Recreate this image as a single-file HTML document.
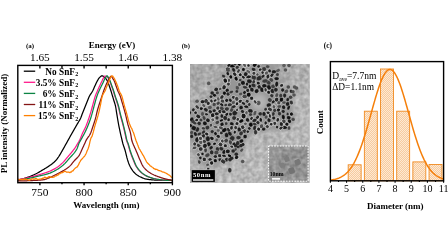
<!DOCTYPE html>
<html><head><meta charset="utf-8"><style>html,body{margin:0;padding:0;background:#fff}svg{display:block;filter:blur(0.3px)}</style></head>
<body><svg width="448" height="252" viewBox="0 0 448 252">
<rect width="448" height="252" fill="#fff"/>
<clipPath id="ca"><rect x="17.8" y="65.4" width="154.6" height="117.29999999999998"/></clipPath>
<g clip-path="url(#ca)" fill="none" stroke-width="1.25" stroke-linejoin="round">
<path d="M18.00,180.00 L18.50,179.90 L19.00,179.79 L19.50,179.68 L20.00,179.56 L20.50,179.44 L21.00,179.31 L21.50,179.18 L22.00,179.05 L22.50,178.91 L23.00,178.77 L23.50,178.63 L24.00,178.48 L24.50,178.33 L25.00,178.17 L25.50,178.02 L26.00,177.86 L26.50,177.70 L27.00,177.53 L27.50,177.37 L28.00,177.20 L28.50,177.03 L29.00,176.85 L29.50,176.67 L30.00,176.48 L30.50,176.28 L31.00,176.08 L31.50,175.87 L32.00,175.66 L32.50,175.45 L33.00,175.23 L33.50,175.00 L34.00,174.77 L34.50,174.54 L35.00,174.30 L35.50,174.06 L36.00,173.81 L36.50,173.54 L37.00,173.28 L37.50,173.00 L38.00,172.72 L38.50,172.44 L39.00,172.15 L39.50,171.85 L40.00,171.56 L40.50,171.26 L41.00,170.96 L41.50,170.66 L42.00,170.36 L42.50,170.06 L43.00,169.76 L43.50,169.46 L44.00,169.17 L44.50,168.87 L45.00,168.57 L45.50,168.27 L46.00,167.97 L46.50,167.66 L47.00,167.35 L47.50,167.04 L48.00,166.72 L48.50,166.39 L49.00,166.05 L49.50,165.71 L50.00,165.36 L50.50,165.00 L51.00,164.64 L51.50,164.27 L52.00,163.89 L52.50,163.50 L53.00,163.09 L53.50,162.67 L54.00,162.24 L54.50,161.78 L55.00,161.30 L55.50,160.79 L56.00,160.24 L56.50,159.66 L57.00,159.04 L57.50,158.40 L58.00,157.73 L58.50,157.00 L59.00,156.23 L59.50,155.43 L60.00,154.60 L60.50,153.77 L61.00,152.93 L61.50,152.06 L62.00,151.17 L62.50,150.28 L63.00,149.37 L63.50,148.48 L64.00,147.59 L64.50,146.69 L65.00,145.80 L65.50,144.90 L66.00,144.00 L66.50,143.09 L67.00,142.18 L67.50,141.27 L68.00,140.36 L68.50,139.46 L69.00,138.57 L69.50,137.69 L70.00,136.81 L70.50,135.93 L71.00,135.05 L71.50,134.18 L72.00,133.30 L72.50,132.42 L73.00,131.54 L73.50,130.66 L74.00,129.79 L74.50,128.91 L75.00,128.04 L75.50,127.16 L76.00,126.28 L76.50,125.41 L77.00,124.53 L77.50,123.65 L78.00,122.81 L78.50,122.00 L79.00,121.18 L79.50,120.33 L80.00,119.42 L80.50,118.43 L81.00,117.29 L81.50,115.94 L82.00,114.53 L82.50,113.23 L83.00,111.96 L83.50,110.71 L84.00,109.47 L84.50,108.23 L85.00,107.00 L85.50,105.75 L86.00,104.49 L86.50,103.23 L87.00,101.98 L87.50,100.75 L88.00,99.50 L88.50,98.25 L89.00,97.06 L89.50,96.00 L90.00,95.09 L90.50,94.29 L91.00,93.54 L91.50,92.81 L92.00,92.04 L92.50,91.18 L93.00,90.21 L93.50,89.14 L94.00,88.01 L94.50,86.87 L95.00,85.79 L95.50,84.70 L96.00,83.60 L96.50,82.54 L97.00,81.55 L97.50,80.65 L98.00,79.77 L98.50,78.94 L99.00,78.20 L99.50,77.60 L100.00,77.10 L100.50,76.62 L101.00,76.20 L101.50,75.91 L102.00,75.80 L102.50,75.88 L103.00,76.10 L103.50,76.43 L104.00,76.82 L104.50,77.24 L105.00,77.68 L105.50,78.19 L106.00,78.80 L106.50,79.51 L107.00,80.30 L107.50,81.19 L108.00,82.33 L108.50,83.69 L109.00,85.15 L109.50,86.56 L110.00,87.99 L110.50,89.47 L111.00,91.00 L111.50,92.62 L112.00,94.31 L112.50,96.00 L113.00,97.67 L113.50,99.33 L114.00,101.00 L114.50,102.55 L115.00,104.11 L115.50,106.00 L116.00,108.75 L116.50,112.08 L117.00,115.21 L117.50,118.25 L118.00,121.22 L118.50,124.00 L119.00,126.56 L119.50,128.97 L120.00,131.29 L120.50,133.55 L121.00,135.77 L121.50,137.91 L122.00,140.00 L122.50,142.08 L123.00,144.00 L123.50,145.60 L124.00,147.03 L124.50,148.45 L125.00,150.00 L125.50,151.82 L126.00,153.84 L126.50,155.92 L127.00,157.91 L127.50,159.68 L128.00,161.21 L128.50,162.66 L129.00,164.01 L129.50,165.24 L130.00,166.32 L130.50,167.25 L131.00,168.11 L131.50,168.93 L132.00,169.70 L132.50,170.42 L133.00,171.10 L133.50,171.72 L134.00,172.29 L134.50,172.82 L135.00,173.30 L135.50,173.74 L136.00,174.16 L136.50,174.55 L137.00,174.92 L137.50,175.26 L138.00,175.59 L138.50,175.89 L139.00,176.18 L139.50,176.45 L140.00,176.70 L140.50,176.94 L141.00,177.19 L141.50,177.42 L142.00,177.65 L142.50,177.88 L143.00,178.09 L143.50,178.29 L144.00,178.48 L144.50,178.66 L145.00,178.81 L145.50,178.95 L146.00,179.07 L146.50,179.17 L147.00,179.24 L147.50,179.32 L148.00,179.39 L148.50,179.45 L149.00,179.51 L149.50,179.58 L150.00,179.63 L150.50,179.69 L151.00,179.74 L151.50,179.79 L152.00,179.83 L152.50,179.88 L153.00,179.92 L153.50,179.96 L154.00,179.99 L154.50,180.03 L155.00,180.06 L155.50,180.09 L156.00,180.11 L156.50,180.14 L157.00,180.16 L157.50,180.18 L158.00,180.20 L158.50,180.22 L159.00,180.23 L159.50,180.25 L160.00,180.27 L160.50,180.28 L161.00,180.30 L161.50,180.31 L162.00,180.33 L162.50,180.34 L163.00,180.36 L163.50,180.37 L164.00,180.38 L164.50,180.39 L165.00,180.41 L165.50,180.42 L166.00,180.43 L166.50,180.44 L167.00,180.45 L167.50,180.46 L168.00,180.46 L168.50,180.47 L169.00,180.48 L169.50,180.48 L170.00,180.49 L170.50,180.49 L171.00,180.50 L171.50,180.50 L172.00,180.50 L172.50,180.50" stroke="#000000"/>
<path d="M18.00,179.60 L18.50,179.52 L19.00,179.44 L19.50,179.36 L20.00,179.28 L20.50,179.19 L21.00,179.11 L21.50,179.02 L22.00,178.93 L22.50,178.83 L23.00,178.74 L23.50,178.64 L24.00,178.54 L24.50,178.44 L25.00,178.34 L25.50,178.24 L26.00,178.13 L26.50,178.03 L27.00,177.92 L27.50,177.81 L28.00,177.70 L28.50,177.59 L29.00,177.47 L29.50,177.35 L30.00,177.23 L30.50,177.11 L31.00,176.98 L31.50,176.85 L32.00,176.72 L32.50,176.58 L33.00,176.45 L33.50,176.31 L34.00,176.17 L34.50,176.03 L35.00,175.89 L35.50,175.75 L36.00,175.61 L36.50,175.46 L37.00,175.32 L37.50,175.17 L38.00,175.03 L38.50,174.88 L39.00,174.74 L39.50,174.60 L40.00,174.45 L40.50,174.31 L41.00,174.16 L41.50,174.02 L42.00,173.87 L42.50,173.72 L43.00,173.57 L43.50,173.42 L44.00,173.26 L44.50,173.10 L45.00,172.94 L45.50,172.77 L46.00,172.60 L46.50,172.43 L47.00,172.25 L47.50,172.07 L48.00,171.88 L48.50,171.68 L49.00,171.48 L49.50,171.28 L50.00,171.06 L50.50,170.85 L51.00,170.62 L51.50,170.39 L52.00,170.16 L52.50,169.91 L53.00,169.66 L53.50,169.41 L54.00,169.14 L54.50,168.87 L55.00,168.59 L55.50,168.30 L56.00,168.00 L56.50,167.70 L57.00,167.38 L57.50,167.05 L58.00,166.70 L58.50,166.33 L59.00,165.95 L59.50,165.55 L60.00,165.14 L60.50,164.72 L61.00,164.28 L61.50,163.83 L62.00,163.37 L62.50,162.90 L63.00,162.41 L63.50,161.88 L64.00,161.32 L64.50,160.74 L65.00,160.15 L65.50,159.55 L66.00,158.95 L66.50,158.35 L67.00,157.77 L67.50,157.18 L68.00,156.60 L68.50,156.02 L69.00,155.44 L69.50,154.86 L70.00,154.28 L70.50,153.69 L71.00,153.09 L71.50,152.49 L72.00,151.87 L72.50,151.25 L73.00,150.61 L73.50,149.95 L74.00,149.28 L74.50,148.58 L75.00,147.86 L75.50,147.10 L76.00,146.31 L76.50,145.49 L77.00,144.65 L77.50,143.80 L78.00,142.97 L78.50,142.14 L79.00,141.30 L79.50,140.39 L80.00,139.37 L80.50,138.20 L81.00,136.95 L81.50,135.68 L82.00,134.46 L82.50,133.34 L83.00,132.28 L83.50,131.27 L84.00,130.27 L84.50,129.27 L85.00,128.24 L85.50,127.15 L86.00,126.00 L86.50,124.77 L87.00,123.48 L87.50,122.14 L88.00,120.75 L88.50,119.31 L89.00,117.83 L89.50,116.31 L90.00,114.73 L90.50,113.06 L91.00,111.33 L91.50,109.56 L92.00,107.77 L92.50,106.00 L93.00,104.18 L93.50,102.28 L94.00,100.39 L94.50,98.56 L95.00,96.90 L95.50,95.45 L96.00,94.19 L96.50,93.03 L97.00,91.91 L97.50,90.77 L98.00,89.61 L98.50,88.46 L99.00,87.33 L99.50,86.22 L100.00,85.14 L100.50,84.10 L101.00,83.07 L101.50,82.04 L102.00,81.00 L102.50,79.87 L103.00,78.75 L103.50,77.84 L104.00,76.99 L104.50,76.29 L105.00,76.00 L105.50,76.06 L106.00,76.25 L106.50,76.53 L107.00,76.89 L107.50,77.32 L108.00,77.80 L108.50,78.40 L109.00,79.37 L109.50,80.53 L110.00,81.74 L110.50,83.11 L111.00,84.56 L111.50,86.00 L112.00,87.36 L112.50,88.71 L113.00,90.11 L113.50,91.63 L114.00,93.31 L114.50,95.03 L115.00,96.62 L115.50,98.09 L116.00,99.53 L116.50,101.00 L117.00,102.49 L117.50,104.01 L118.00,105.65 L118.50,107.54 L119.00,109.69 L119.50,111.90 L120.00,114.00 L120.50,115.92 L121.00,117.75 L121.50,119.55 L122.00,121.36 L122.50,123.22 L123.00,125.19 L123.50,127.21 L124.00,129.28 L124.50,131.39 L125.00,133.56 L125.50,135.91 L126.00,138.37 L126.50,140.33 L127.00,141.71 L127.50,142.91 L128.00,144.31 L128.50,146.05 L129.00,147.92 L129.50,149.68 L130.00,151.22 L130.50,152.69 L131.00,154.09 L131.50,155.45 L132.00,156.75 L132.50,158.02 L133.00,159.27 L133.50,160.49 L134.00,161.73 L134.50,162.96 L135.00,164.14 L135.50,165.23 L136.00,166.20 L136.50,167.01 L137.00,167.75 L137.50,168.46 L138.00,169.12 L138.50,169.75 L139.00,170.34 L139.50,170.90 L140.00,171.43 L140.50,171.92 L141.00,172.38 L141.50,172.82 L142.00,173.22 L142.50,173.60 L143.00,173.97 L143.50,174.32 L144.00,174.65 L144.50,174.97 L145.00,175.27 L145.50,175.55 L146.00,175.82 L146.50,176.08 L147.00,176.31 L147.50,176.53 L148.00,176.74 L148.50,176.94 L149.00,177.13 L149.50,177.32 L150.00,177.50 L150.50,177.67 L151.00,177.84 L151.50,178.01 L152.00,178.16 L152.50,178.31 L153.00,178.45 L153.50,178.59 L154.00,178.72 L154.50,178.84 L155.00,178.95 L155.50,179.05 L156.00,179.15 L156.50,179.23 L157.00,179.32 L157.50,179.40 L158.00,179.48 L158.50,179.55 L159.00,179.62 L159.50,179.69 L160.00,179.76 L160.50,179.82 L161.00,179.88 L161.50,179.94 L162.00,179.99 L162.50,180.04 L163.00,180.08 L163.50,180.12 L164.00,180.16 L164.50,180.19 L165.00,180.22 L165.50,180.25 L166.00,180.28 L166.50,180.31 L167.00,180.34 L167.50,180.36 L168.00,180.39 L168.50,180.41 L169.00,180.43 L169.50,180.45 L170.00,180.47 L170.50,180.48 L171.00,180.49 L171.50,180.50 L172.00,180.50" stroke="#ff1a8c"/>
<path d="M18.00,180.00 L18.50,179.94 L19.00,179.88 L19.50,179.82 L20.00,179.76 L20.50,179.69 L21.00,179.63 L21.50,179.56 L22.00,179.49 L22.50,179.41 L23.00,179.34 L23.50,179.26 L24.00,179.18 L24.50,179.10 L25.00,179.02 L25.50,178.94 L26.00,178.85 L26.50,178.77 L27.00,178.68 L27.50,178.59 L28.00,178.50 L28.50,178.41 L29.00,178.31 L29.50,178.21 L30.00,178.11 L30.50,178.00 L31.00,177.89 L31.50,177.78 L32.00,177.67 L32.50,177.55 L33.00,177.43 L33.50,177.31 L34.00,177.19 L34.50,177.07 L35.00,176.95 L35.50,176.83 L36.00,176.71 L36.50,176.59 L37.00,176.46 L37.50,176.34 L38.00,176.22 L38.50,176.11 L39.00,175.99 L39.50,175.88 L40.00,175.77 L40.50,175.66 L41.00,175.55 L41.50,175.44 L42.00,175.33 L42.50,175.21 L43.00,175.10 L43.50,174.99 L44.00,174.87 L44.50,174.75 L45.00,174.62 L45.50,174.49 L46.00,174.36 L46.50,174.22 L47.00,174.07 L47.50,173.92 L48.00,173.77 L48.50,173.60 L49.00,173.42 L49.50,173.24 L50.00,173.05 L50.50,172.84 L51.00,172.63 L51.50,172.41 L52.00,172.18 L52.50,171.95 L53.00,171.70 L53.50,171.45 L54.00,171.20 L54.50,170.93 L55.00,170.66 L55.50,170.39 L56.00,170.10 L56.50,169.82 L57.00,169.52 L57.50,169.22 L58.00,168.92 L58.50,168.61 L59.00,168.29 L59.50,167.95 L60.00,167.60 L60.50,167.23 L61.00,166.85 L61.50,166.45 L62.00,166.05 L62.50,165.63 L63.00,165.20 L63.50,164.75 L64.00,164.30 L64.50,163.83 L65.00,163.33 L65.50,162.80 L66.00,162.26 L66.50,161.69 L67.00,161.12 L67.50,160.53 L68.00,159.94 L68.50,159.35 L69.00,158.75 L69.50,158.17 L70.00,157.60 L70.50,157.05 L71.00,156.52 L71.50,155.99 L72.00,155.46 L72.50,154.93 L73.00,154.38 L73.50,153.81 L74.00,153.21 L74.50,152.58 L75.00,151.91 L75.50,151.20 L76.00,150.43 L76.50,149.60 L77.00,148.70 L77.50,147.52 L78.00,146.03 L78.50,144.52 L79.00,143.28 L79.50,142.29 L80.00,141.40 L80.50,140.54 L81.00,139.64 L81.50,138.74 L82.00,137.85 L82.50,136.97 L83.00,136.07 L83.50,135.15 L84.00,134.20 L84.50,133.21 L85.00,132.20 L85.50,131.16 L86.00,130.11 L86.50,129.02 L87.00,127.89 L87.50,126.72 L88.00,125.51 L88.50,124.26 L89.00,122.96 L89.50,121.62 L90.00,120.22 L90.50,118.77 L91.00,117.26 L91.50,115.68 L92.00,113.95 L92.50,112.09 L93.00,110.16 L93.50,108.23 L94.00,106.36 L94.50,104.56 L95.00,102.73 L95.50,100.92 L96.00,99.17 L96.50,97.52 L97.00,96.00 L97.50,94.63 L98.00,93.35 L98.50,92.15 L99.00,91.00 L99.50,89.90 L100.00,88.85 L100.50,87.83 L101.00,86.82 L101.50,85.79 L102.00,84.74 L102.50,83.70 L103.00,82.65 L103.50,81.61 L104.00,80.58 L104.50,79.52 L105.00,78.52 L105.50,77.67 L106.00,76.81 L106.50,76.10 L107.00,75.80 L107.50,76.13 L108.00,76.92 L108.50,77.83 L109.00,78.70 L109.50,79.68 L110.00,80.77 L110.50,82.00 L111.00,83.40 L111.50,84.86 L112.00,86.28 L112.50,87.63 L113.00,88.99 L113.50,90.40 L114.00,91.95 L114.50,93.66 L115.00,95.36 L115.50,96.92 L116.00,98.38 L116.50,99.82 L117.00,101.30 L117.50,102.79 L118.00,104.32 L118.50,106.00 L119.00,107.96 L119.50,110.13 L120.00,112.34 L120.50,114.39 L121.00,116.29 L121.50,118.11 L122.00,119.91 L122.50,121.72 L123.00,123.61 L123.50,125.59 L124.00,127.62 L124.50,129.69 L125.00,131.82 L125.50,134.00 L126.00,136.41 L126.50,138.82 L127.00,140.64 L127.50,141.95 L128.00,143.17 L128.50,144.64 L129.00,146.42 L129.50,148.29 L130.00,150.00 L130.50,151.52 L131.00,152.97 L131.50,154.37 L132.00,155.71 L132.50,157.01 L133.00,158.27 L133.50,159.51 L134.00,160.74 L134.50,161.98 L135.00,163.20 L135.50,164.37 L136.00,165.44 L136.50,166.37 L137.00,167.16 L137.50,167.90 L138.00,168.59 L138.50,169.25 L139.00,169.87 L139.50,170.46 L140.00,171.01 L140.50,171.53 L141.00,172.02 L141.50,172.47 L142.00,172.90 L142.50,173.30 L143.00,173.68 L143.50,174.04 L144.00,174.39 L144.50,174.72 L145.00,175.03 L145.50,175.33 L146.00,175.61 L146.50,175.87 L147.00,176.12 L147.50,176.36 L148.00,176.58 L148.50,176.78 L149.00,176.98 L149.50,177.17 L150.00,177.35 L150.50,177.53 L151.00,177.71 L151.50,177.88 L152.00,178.04 L152.50,178.19 L153.00,178.34 L153.50,178.48 L154.00,178.62 L154.50,178.74 L155.00,178.86 L155.50,178.97 L156.00,179.07 L156.50,179.17 L157.00,179.25 L157.50,179.33 L158.00,179.41 L158.50,179.49 L159.00,179.57 L159.50,179.64 L160.00,179.71 L160.50,179.77 L161.00,179.83 L161.50,179.89 L162.00,179.95 L162.50,180.00 L163.00,180.05 L163.50,180.09 L164.00,180.13 L164.50,180.17 L165.00,180.20 L165.50,180.23 L166.00,180.26 L166.50,180.29 L167.00,180.32 L167.50,180.34 L168.00,180.37 L168.50,180.39 L169.00,180.42 L169.50,180.44 L170.00,180.45 L170.50,180.47 L171.00,180.48 L171.50,180.49 L172.00,180.50 L172.50,180.50" stroke="#0c8444"/>
<path d="M18.00,181.00 L18.50,180.99 L19.00,180.99 L19.50,180.98 L20.00,180.97 L20.50,180.96 L21.00,180.95 L21.50,180.94 L22.00,180.92 L22.50,180.91 L23.00,180.90 L23.50,180.88 L24.00,180.87 L24.50,180.85 L25.00,180.83 L25.50,180.81 L26.00,180.80 L26.50,180.78 L27.00,180.76 L27.50,180.74 L28.00,180.72 L28.50,180.70 L29.00,180.67 L29.50,180.65 L30.00,180.63 L30.50,180.61 L31.00,180.58 L31.50,180.56 L32.00,180.54 L32.50,180.51 L33.00,180.49 L33.50,180.46 L34.00,180.44 L34.50,180.41 L35.00,180.39 L35.50,180.37 L36.00,180.34 L36.50,180.32 L37.00,180.29 L37.50,180.26 L38.00,180.23 L38.50,180.20 L39.00,180.17 L39.50,180.14 L40.00,180.10 L40.50,180.06 L41.00,180.02 L41.50,179.97 L42.00,179.92 L42.50,179.87 L43.00,179.81 L43.50,179.74 L44.00,179.65 L44.50,179.53 L45.00,179.39 L45.50,179.23 L46.00,179.06 L46.50,178.87 L47.00,178.67 L47.50,178.47 L48.00,178.26 L48.50,178.05 L49.00,177.83 L49.50,177.62 L50.00,177.42 L50.50,177.20 L51.00,176.97 L51.50,176.73 L52.00,176.48 L52.50,176.23 L53.00,175.97 L53.50,175.71 L54.00,175.46 L54.50,175.20 L55.00,174.95 L55.50,174.70 L56.00,174.46 L56.50,174.21 L57.00,173.97 L57.50,173.72 L58.00,173.47 L58.50,173.22 L59.00,172.97 L59.50,172.71 L60.00,172.45 L60.50,172.18 L61.00,171.92 L61.50,171.65 L62.00,171.39 L62.50,171.11 L63.00,170.83 L63.50,170.55 L64.00,170.26 L64.50,169.95 L65.00,169.64 L65.50,169.31 L66.00,168.99 L66.50,168.65 L67.00,168.31 L67.50,167.95 L68.00,167.58 L68.50,167.19 L69.00,166.79 L69.50,166.36 L70.00,165.91 L70.50,165.40 L71.00,164.85 L71.50,164.25 L72.00,163.62 L72.50,162.98 L73.00,162.35 L73.50,161.72 L74.00,161.12 L74.50,160.55 L75.00,160.02 L75.50,159.52 L76.00,159.02 L76.50,158.52 L77.00,158.01 L77.50,157.48 L78.00,156.91 L78.50,156.28 L79.00,155.59 L79.50,154.81 L80.00,153.86 L80.50,152.79 L81.00,151.65 L81.50,150.51 L82.00,149.40 L82.50,148.33 L83.00,147.27 L83.50,146.19 L84.00,145.11 L84.50,144.02 L85.00,142.89 L85.50,141.71 L86.00,140.60 L86.50,139.64 L87.00,138.82 L87.50,138.08 L88.00,137.40 L88.50,136.73 L89.00,136.03 L89.50,135.26 L90.00,134.39 L90.50,133.36 L91.00,132.14 L91.50,130.78 L92.00,129.32 L92.50,127.81 L93.00,126.30 L93.50,124.81 L94.00,123.30 L94.50,121.74 L95.00,120.10 L95.50,118.36 L96.00,116.42 L96.50,114.22 L97.00,112.01 L97.50,110.00 L98.00,108.24 L98.50,106.60 L99.00,105.03 L99.50,103.52 L100.00,102.02 L100.50,100.51 L101.00,98.96 L101.50,97.41 L102.00,95.86 L102.50,94.34 L103.00,92.86 L103.50,91.43 L104.00,90.06 L104.50,88.72 L105.00,87.40 L105.50,86.13 L106.00,84.91 L106.50,83.76 L107.00,82.70 L107.50,81.72 L108.00,80.81 L108.50,79.95 L109.00,79.13 L109.50,78.34 L110.00,77.40 L110.50,76.56 L111.00,76.20 L111.50,76.49 L112.00,77.18 L112.50,78.03 L113.00,78.79 L113.50,79.55 L114.00,80.41 L114.50,81.44 L115.00,82.76 L115.50,84.24 L116.00,85.72 L116.50,87.13 L117.00,88.57 L117.50,89.97 L118.00,91.24 L118.50,92.34 L119.00,93.34 L119.50,94.35 L120.00,95.49 L120.50,96.87 L121.00,98.55 L121.50,100.32 L122.00,101.99 L122.50,103.64 L123.00,105.31 L123.50,107.04 L124.00,108.81 L124.50,110.61 L125.00,112.47 L125.50,114.39 L126.00,116.45 L126.50,118.59 L127.00,120.75 L127.50,122.83 L128.00,124.73 L128.50,126.40 L129.00,127.95 L129.50,129.49 L130.00,131.17 L130.50,133.12 L131.00,135.72 L131.50,139.02 L132.00,141.08 L132.50,142.51 L133.00,143.75 L133.50,144.98 L134.00,146.11 L134.50,147.19 L135.00,148.25 L135.50,149.33 L136.00,150.46 L136.50,151.64 L137.00,152.85 L137.50,154.08 L138.00,155.30 L138.50,156.52 L139.00,157.72 L139.50,158.88 L140.00,160.00 L140.50,161.12 L141.00,162.26 L141.50,163.39 L142.00,164.46 L142.50,165.44 L143.00,166.28 L143.50,166.96 L144.00,167.57 L144.50,168.15 L145.00,168.70 L145.50,169.22 L146.00,169.71 L146.50,170.17 L147.00,170.61 L147.50,171.02 L148.00,171.42 L148.50,171.79 L149.00,172.14 L149.50,172.48 L150.00,172.81 L150.50,173.12 L151.00,173.42 L151.50,173.71 L152.00,173.98 L152.50,174.25 L153.00,174.50 L153.50,174.74 L154.00,174.98 L154.50,175.20 L155.00,175.42 L155.50,175.63 L156.00,175.83 L156.50,176.03 L157.00,176.22 L157.50,176.41 L158.00,176.59 L158.50,176.77 L159.00,176.95 L159.50,177.12 L160.00,177.29 L160.50,177.46 L161.00,177.62 L161.50,177.78 L162.00,177.94 L162.50,178.09 L163.00,178.24 L163.50,178.38 L164.00,178.52 L164.50,178.65 L165.00,178.79 L165.50,178.91 L166.00,179.04 L166.50,179.15 L167.00,179.27 L167.50,179.38 L168.00,179.49 L168.50,179.59 L169.00,179.69 L169.50,179.79 L170.00,179.89 L170.50,179.98 L171.00,180.06 L171.50,180.15 L172.00,180.23 L172.50,180.30" stroke="#841414"/>
<path d="M18.00,179.33 L18.50,179.30 L19.00,179.43 L19.50,179.53 L20.00,179.62 L20.50,179.47 L21.00,179.49 L21.50,179.56 L22.00,179.58 L22.50,179.43 L23.00,179.39 L23.50,179.59 L24.00,179.37 L24.50,179.07 L25.00,179.42 L25.50,179.51 L26.00,179.20 L26.50,179.19 L27.00,179.49 L27.50,179.69 L28.00,179.93 L28.50,179.92 L29.00,180.06 L29.50,180.30 L30.00,179.78 L30.50,179.65 L31.00,179.47 L31.50,179.26 L32.00,178.74 L32.50,178.99 L33.00,178.97 L33.50,179.06 L34.00,178.87 L34.50,179.05 L35.00,178.84 L35.50,178.59 L36.00,178.72 L36.50,178.73 L37.00,179.07 L37.50,179.45 L38.00,179.35 L38.50,179.38 L39.00,179.40 L39.50,179.18 L40.00,179.05 L40.50,179.00 L41.00,178.77 L41.50,178.74 L42.00,178.69 L42.50,178.18 L43.00,178.46 L43.50,178.04 L44.00,177.82 L44.50,177.26 L45.00,177.58 L45.50,177.32 L46.00,177.81 L46.50,177.79 L47.00,177.94 L47.50,177.66 L48.00,177.31 L48.50,176.74 L49.00,176.88 L49.50,176.71 L50.00,176.72 L50.50,177.01 L51.00,177.32 L51.50,177.14 L52.00,177.31 L52.50,177.36 L53.00,177.36 L53.50,176.98 L54.00,177.12 L54.50,176.74 L55.00,176.29 L55.50,175.85 L56.00,176.03 L56.50,175.54 L57.00,175.33 L57.50,175.05 L58.00,175.08 L58.50,174.36 L59.00,173.88 L59.50,173.91 L60.00,173.61 L60.50,173.15 L61.00,173.02 L61.50,172.84 L62.00,172.39 L62.50,172.61 L63.00,172.33 L63.50,171.91 L64.00,171.54 L64.50,171.52 L65.00,171.24 L65.50,171.50 L66.00,171.78 L66.50,172.17 L67.00,172.17 L67.50,172.20 L68.00,172.19 L68.50,172.16 L69.00,172.17 L69.50,172.55 L70.00,172.56 L70.50,172.00 L71.00,172.18 L71.50,171.98 L72.00,171.14 L72.50,170.95 L73.00,170.96 L73.50,170.08 L74.00,169.42 L74.50,168.94 L75.00,168.29 L75.50,168.01 L76.00,167.55 L76.50,167.23 L77.00,167.24 L77.50,166.39 L78.00,165.60 L78.50,164.93 L79.00,163.85 L79.50,162.41 L80.00,161.76 L80.50,160.91 L81.00,160.03 L81.50,159.48 L82.00,159.08 L82.50,158.43 L83.00,157.82 L83.50,157.32 L84.00,156.70 L84.50,156.20 L85.00,155.51 L85.50,154.56 L86.00,153.76 L86.50,152.56 L87.00,151.13 L87.50,150.08 L88.00,148.91 L88.50,147.58 L89.00,146.02 L89.50,143.83 L90.00,141.31 L90.50,139.59 L91.00,137.93 L91.50,137.14 L92.00,136.41 L92.50,134.74 L93.00,133.11 L93.50,131.39 L94.00,129.41 L94.50,127.27 L95.00,125.60 L95.50,123.92 L96.00,122.32 L96.50,120.47 L97.00,118.97 L97.50,117.41 L98.00,115.68 L98.50,113.70 L99.00,111.66 L99.50,109.54 L100.00,107.24 L100.50,104.87 L101.00,102.11 L101.50,99.42 L102.00,97.03 L102.50,95.46 L103.00,94.38 L103.50,93.52 L104.00,92.69 L104.50,91.90 L105.00,91.01 L105.50,89.91 L106.00,88.64 L106.50,87.31 L107.00,86.00 L107.50,84.73 L108.00,83.47 L108.50,82.22 L109.00,81.00 L109.50,79.76 L110.00,78.58 L110.50,77.65 L111.00,76.78 L111.50,76.08 L112.00,75.80 L112.50,76.01 L113.00,76.54 L113.50,77.25 L114.00,78.00 L114.50,78.86 L115.00,79.90 L115.50,81.00 L116.00,82.10 L116.50,83.26 L117.00,84.47 L117.50,85.74 L118.00,87.14 L118.50,88.71 L119.00,90.21 L119.50,91.45 L120.00,92.46 L120.50,93.36 L121.00,94.25 L121.50,95.26 L122.00,96.62 L122.50,98.41 L123.00,100.36 L123.50,102.32 L124.00,104.37 L124.50,106.21 L125.00,107.92 L125.50,109.57 L126.00,111.26 L126.50,112.88 L127.00,114.84 L127.50,116.64 L128.00,118.66 L128.50,120.61 L129.00,122.34 L129.50,123.78 L130.00,125.00 L130.50,126.17 L131.00,127.33 L131.50,128.20 L132.00,129.01 L132.50,130.57 L133.00,131.69 L133.50,132.65 L134.00,134.29 L134.50,135.88 L135.00,137.38 L135.50,139.01 L136.00,140.53 L136.50,141.76 L137.00,143.07 L137.50,144.38 L138.00,145.58 L138.50,146.96 L139.00,148.23 L139.50,149.12 L140.00,149.77 L140.50,150.82 L141.00,151.69 L141.50,152.49 L142.00,153.35 L142.50,154.41 L143.00,155.09 L143.50,155.85 L144.00,156.78 L144.50,157.95 L145.00,158.75 L145.50,159.75 L146.00,160.71 L146.50,161.74 L147.00,162.53 L147.50,163.08 L148.00,163.53 L148.50,164.08 L149.00,164.36 L149.50,164.89 L150.00,165.72 L150.50,166.07 L151.00,166.07 L151.50,166.77 L152.00,167.02 L152.50,167.27 L153.00,167.48 L153.50,168.48 L154.00,168.68 L154.50,168.92 L155.00,168.97 L155.50,169.51 L156.00,169.37 L156.50,169.40 L157.00,169.42 L157.50,169.97 L158.00,170.16 L158.50,170.42 L159.00,170.71 L159.50,170.68 L160.00,170.76 L160.50,170.92 L161.00,171.05 L161.50,171.24 L162.00,171.71 L162.50,171.96 L163.00,172.06 L163.50,172.12 L164.00,172.12 L164.50,172.54 L165.00,172.72 L165.50,172.95 L166.00,173.05 L166.50,173.67 L167.00,173.68 L167.50,174.04 L168.00,174.43 L168.50,174.88 L169.00,174.85 L169.50,175.47 L170.00,175.74 L170.50,176.05 L171.00,176.73 L171.50,177.21 L172.00,177.48" stroke="#ff8000"/>
</g>
<rect x="17.8" y="65.4" width="154.6" height="117.29999999999998" fill="none" stroke="#000" stroke-width="1.4"/>
<path d="M39.89,65.4 v3.2 M39.89,182.7 v2.6 M61.97,65.4 v3.2 M61.97,182.7 v1.5 M84.06,65.4 v3.2 M84.06,182.7 v2.6 M106.14,65.4 v3.2 M106.14,182.7 v1.5 M128.23,65.4 v3.2 M128.23,182.7 v2.6 M150.31,65.4 v3.2 M150.31,182.7 v1.5 M172.40,182.7 v2.6" stroke="#000" stroke-width="1.35" fill="none"/>
<text x="39.89" y="195.5" font-family="Liberation Serif, serif" font-size="11.4" text-anchor="middle">750</text>
<text x="84.06" y="195.5" font-family="Liberation Serif, serif" font-size="11.4" text-anchor="middle">800</text>
<text x="128.23" y="195.5" font-family="Liberation Serif, serif" font-size="11.4" text-anchor="middle">850</text>
<text x="172.40" y="195.5" font-family="Liberation Serif, serif" font-size="11.4" text-anchor="middle">900</text>
<text x="39.89" y="60.9" font-family="Liberation Serif, serif" font-size="11.3" text-anchor="middle">1.65</text>
<text x="84.06" y="60.9" font-family="Liberation Serif, serif" font-size="11.3" text-anchor="middle">1.55</text>
<text x="128.23" y="60.9" font-family="Liberation Serif, serif" font-size="11.3" text-anchor="middle">1.46</text>
<text x="172.40" y="60.9" font-family="Liberation Serif, serif" font-size="11.3" text-anchor="middle">1.38</text>
<text x="112" y="48.4" font-family="Liberation Serif, serif" font-size="9" font-weight="bold" text-anchor="middle">Energy (eV)</text>
<text x="106.3" y="207.9" font-family="Liberation Serif, serif" font-size="9" font-weight="bold" text-anchor="middle">Wavelength (nm)</text>
<text x="26" y="48.2" font-family="Liberation Serif, serif" font-size="7" font-weight="bold">(a)</text>
<text transform="translate(7.2,123.4) rotate(-90)" font-family="Liberation Serif, serif" font-size="9" font-weight="bold" text-anchor="middle">PL intensity (Normalized)</text>
<path d="M23.8,71.20 H35.2" stroke="#000000" stroke-width="1.3"/>
<text x="75.0" y="74.70" font-family="Liberation Serif, serif" font-size="9.3" font-weight="bold" text-anchor="end">No SnF</text>
<text x="75.2" y="76.30" font-family="Liberation Serif, serif" font-size="6" font-weight="bold">2</text>
<path d="M23.8,82.30 H35.2" stroke="#ff1a8c" stroke-width="1.3"/>
<text x="75.0" y="85.80" font-family="Liberation Serif, serif" font-size="9.3" font-weight="bold" text-anchor="end">3.5% SnF</text>
<text x="75.2" y="87.40" font-family="Liberation Serif, serif" font-size="6" font-weight="bold">2</text>
<path d="M23.8,93.40 H35.2" stroke="#0c8444" stroke-width="1.3"/>
<text x="75.0" y="96.90" font-family="Liberation Serif, serif" font-size="9.3" font-weight="bold" text-anchor="end">6% SnF</text>
<text x="75.2" y="98.50" font-family="Liberation Serif, serif" font-size="6" font-weight="bold">2</text>
<path d="M23.8,104.50 H35.2" stroke="#841414" stroke-width="1.3"/>
<text x="75.0" y="108.00" font-family="Liberation Serif, serif" font-size="9.3" font-weight="bold" text-anchor="end">11% SnF</text>
<text x="75.2" y="109.60" font-family="Liberation Serif, serif" font-size="6" font-weight="bold">2</text>
<path d="M23.8,115.60 H35.2" stroke="#ff8000" stroke-width="1.3"/>
<text x="75.0" y="119.10" font-family="Liberation Serif, serif" font-size="9.3" font-weight="bold" text-anchor="end">15% SnF</text>
<text x="75.2" y="120.70" font-family="Liberation Serif, serif" font-size="6" font-weight="bold">2</text>
<text x="181.8" y="48.4" font-family="Liberation Serif, serif" font-size="6.6" font-weight="bold">(b)</text>
<rect x="190.0" y="64.0" width="119.60000000000002" height="118.9" fill="#b4b4b4"/>
<clipPath id="ct"><rect x="190" y="64" width="119.6" height="118.9"/></clipPath>
<filter id="fb" x="-5%" y="-5%" width="110%" height="110%"><feGaussianBlur stdDeviation="0.5"/></filter>
<filter id="fb2" x="-10%" y="-10%" width="120%" height="120%"><feGaussianBlur stdDeviation="2.5"/></filter>
<g clip-path="url(#ct)"><g filter="url(#fb)">
<linearGradient id="tg" x1="0" y1="0" x2="0.3" y2="1"><stop offset="0" stop-color="#b0b0b0"/><stop offset="0.55" stop-color="#c2c2c2"/><stop offset="1" stop-color="#c6c6c6"/></linearGradient>
<rect x="190" y="64" width="119.6" height="118.9" fill="url(#tg)"/>
<filter id="nz" x="0" y="0" width="100%" height="100%" color-interpolation-filters="sRGB"><feTurbulence type="fractalNoise" baseFrequency="0.22" numOctaves="2" seed="4"/><feColorMatrix type="matrix" values="1.6 0 0 0 -0.3  1.6 0 0 0 -0.3  1.6 0 0 0 -0.3  0 0 0 0 0.2"/></filter>
<rect x="190" y="64" width="119.6" height="118.9" filter="url(#nz)"/>
<polygon points="226,63 275,63 277,72 281,79 286,87 289,95 292,104 294,112 294,120 289,127 280,130 266,131 252,133 244,144 240,156 232,161 222,163 214,167 202,166 196,158 192,148 189,140 189,108 197,106 204,100 211,95 216,89 221,81 224,72" fill="#969696" filter="url(#fb2)"/>
<ellipse cx="259" cy="102" rx="8" ry="8.5" fill="#b4b4b4" filter="url(#fb2)"/>
<ellipse cx="244.2" cy="131.1" rx="2.13" ry="2.08" transform="rotate(123 244.2 131.1)" fill="rgb(48,48,48)" stroke="#ffffff" stroke-width="0.9" stroke-opacity="0.22"/>
<ellipse cx="210.9" cy="125.2" rx="1.92" ry="1.72" transform="rotate(108 210.9 125.2)" fill="rgb(66,66,66)" stroke="#ffffff" stroke-width="0.9" stroke-opacity="0.46"/>
<ellipse cx="199.3" cy="162.0" rx="2.09" ry="1.51" transform="rotate(73 199.3 162.0)" fill="rgb(63,63,63)" stroke="#ffffff" stroke-width="0.9" stroke-opacity="0.23"/>
<ellipse cx="253.6" cy="69.4" rx="2.24" ry="1.81" transform="rotate(21 253.6 69.4)" fill="rgb(37,37,37)" stroke="#ffffff" stroke-width="0.9" stroke-opacity="0.22"/>
<ellipse cx="191.7" cy="119.3" rx="2.31" ry="1.86" transform="rotate(138 191.7 119.3)" fill="rgb(20,20,20)" stroke="#ffffff" stroke-width="0.9" stroke-opacity="0.27"/>
<ellipse cx="244.8" cy="96.4" rx="2.83" ry="2.37" transform="rotate(173 244.8 96.4)" fill="rgb(69,69,69)" stroke="#ffffff" stroke-width="0.9" stroke-opacity="0.53"/>
<ellipse cx="227.2" cy="90.4" rx="1.99" ry="1.96" transform="rotate(63 227.2 90.4)" fill="rgb(19,19,19)" stroke="#ffffff" stroke-width="0.9" stroke-opacity="0.30"/>
<ellipse cx="283.2" cy="111.4" rx="1.81" ry="1.82" transform="rotate(127 283.2 111.4)" fill="rgb(35,35,35)" stroke="#ffffff" stroke-width="0.9" stroke-opacity="0.19"/>
<ellipse cx="197.1" cy="139.7" rx="2.80" ry="2.13" transform="rotate(95 197.1 139.7)" fill="rgb(27,27,27)" stroke="#ffffff" stroke-width="0.9" stroke-opacity="0.30"/>
<ellipse cx="284.7" cy="95.3" rx="2.65" ry="1.91" transform="rotate(94 284.7 95.3)" fill="rgb(35,35,35)" stroke="#ffffff" stroke-width="0.9" stroke-opacity="0.36"/>
<ellipse cx="257.5" cy="117.3" rx="2.34" ry="1.84" transform="rotate(134 257.5 117.3)" fill="rgb(40,40,40)" stroke="#ffffff" stroke-width="0.9" stroke-opacity="0.54"/>
<ellipse cx="211.7" cy="152.4" rx="2.46" ry="2.19" transform="rotate(82 211.7 152.4)" fill="rgb(42,42,42)" stroke="#ffffff" stroke-width="0.9" stroke-opacity="0.34"/>
<ellipse cx="204.3" cy="141.5" rx="2.20" ry="2.12" transform="rotate(40 204.3 141.5)" fill="rgb(57,57,57)" stroke="#ffffff" stroke-width="0.9" stroke-opacity="0.48"/>
<ellipse cx="202.5" cy="114.0" rx="2.14" ry="1.67" transform="rotate(91 202.5 114.0)" fill="rgb(81,81,81)" stroke="#ffffff" stroke-width="0.9" stroke-opacity="0.12"/>
<ellipse cx="214.4" cy="95.3" rx="2.25" ry="1.75" transform="rotate(6 214.4 95.3)" fill="rgb(18,18,18)" stroke="#ffffff" stroke-width="0.9" stroke-opacity="0.42"/>
<ellipse cx="214.2" cy="110.7" rx="1.60" ry="1.84" transform="rotate(72 214.2 110.7)" fill="rgb(32,32,32)" stroke="#ffffff" stroke-width="0.9" stroke-opacity="0.15"/>
<ellipse cx="284.0" cy="102.6" rx="2.07" ry="1.51" transform="rotate(179 284.0 102.6)" fill="rgb(76,76,76)" stroke="#ffffff" stroke-width="0.9" stroke-opacity="0.22"/>
<ellipse cx="199.2" cy="134.0" rx="2.31" ry="1.48" transform="rotate(156 199.2 134.0)" fill="rgb(47,47,47)" stroke="#ffffff" stroke-width="0.9" stroke-opacity="0.14"/>
<ellipse cx="218.2" cy="136.3" rx="2.26" ry="1.89" transform="rotate(28 218.2 136.3)" fill="rgb(30,30,30)" stroke="#ffffff" stroke-width="0.9" stroke-opacity="0.47"/>
<ellipse cx="234.2" cy="118.0" rx="2.36" ry="2.26" transform="rotate(2 234.2 118.0)" fill="rgb(41,41,41)" stroke="#ffffff" stroke-width="0.9" stroke-opacity="0.33"/>
<ellipse cx="240.3" cy="74.8" rx="1.94" ry="1.88" transform="rotate(57 240.3 74.8)" fill="rgb(25,25,25)" stroke="#ffffff" stroke-width="0.9" stroke-opacity="0.59"/>
<ellipse cx="217.6" cy="149.0" rx="1.99" ry="2.18" transform="rotate(112 217.6 149.0)" fill="rgb(42,42,42)" stroke="#ffffff" stroke-width="0.9" stroke-opacity="0.22"/>
<ellipse cx="243.4" cy="69.5" rx="1.88" ry="1.99" transform="rotate(12 243.4 69.5)" fill="rgb(15,15,15)" stroke="#ffffff" stroke-width="0.9" stroke-opacity="0.46"/>
<ellipse cx="209.9" cy="107.5" rx="2.27" ry="2.16" transform="rotate(127 209.9 107.5)" fill="rgb(85,85,85)" stroke="#ffffff" stroke-width="0.9" stroke-opacity="0.20"/>
<ellipse cx="259.1" cy="78.2" rx="2.90" ry="2.37" transform="rotate(155 259.1 78.2)" fill="rgb(42,42,42)" stroke="#ffffff" stroke-width="0.9" stroke-opacity="0.19"/>
<ellipse cx="197.3" cy="129.4" rx="2.47" ry="2.05" transform="rotate(115 197.3 129.4)" fill="rgb(36,36,36)" stroke="#ffffff" stroke-width="0.9" stroke-opacity="0.18"/>
<ellipse cx="231.7" cy="146.6" rx="1.99" ry="1.58" transform="rotate(19 231.7 146.6)" fill="rgb(40,40,40)" stroke="#ffffff" stroke-width="0.9" stroke-opacity="0.56"/>
<ellipse cx="265.6" cy="109.2" rx="1.74" ry="1.53" transform="rotate(143 265.6 109.2)" fill="rgb(41,41,41)" stroke="#ffffff" stroke-width="0.9" stroke-opacity="0.24"/>
<ellipse cx="278.4" cy="110.0" rx="2.27" ry="2.02" transform="rotate(133 278.4 110.0)" fill="rgb(22,22,22)" stroke="#ffffff" stroke-width="0.9" stroke-opacity="0.61"/>
<ellipse cx="198.4" cy="154.7" rx="1.83" ry="2.05" transform="rotate(137 198.4 154.7)" fill="rgb(69,69,69)" stroke="#ffffff" stroke-width="0.9" stroke-opacity="0.59"/>
<ellipse cx="191.7" cy="136.3" rx="2.07" ry="1.71" transform="rotate(85 191.7 136.3)" fill="rgb(35,35,35)" stroke="#ffffff" stroke-width="0.9" stroke-opacity="0.14"/>
<ellipse cx="247.7" cy="90.4" rx="2.18" ry="2.01" transform="rotate(93 247.7 90.4)" fill="rgb(40,40,40)" stroke="#ffffff" stroke-width="0.9" stroke-opacity="0.47"/>
<ellipse cx="274.7" cy="123.4" rx="1.96" ry="2.08" transform="rotate(9 274.7 123.4)" fill="rgb(50,50,50)" stroke="#ffffff" stroke-width="0.9" stroke-opacity="0.59"/>
<ellipse cx="225.4" cy="145.7" rx="1.93" ry="1.90" transform="rotate(20 225.4 145.7)" fill="rgb(29,29,29)" stroke="#ffffff" stroke-width="0.9" stroke-opacity="0.52"/>
<ellipse cx="212.7" cy="115.2" rx="2.49" ry="2.25" transform="rotate(103 212.7 115.2)" fill="rgb(26,26,26)" stroke="#ffffff" stroke-width="0.9" stroke-opacity="0.58"/>
<ellipse cx="204.9" cy="123.3" rx="1.97" ry="2.06" transform="rotate(101 204.9 123.3)" fill="rgb(18,18,18)" stroke="#ffffff" stroke-width="0.9" stroke-opacity="0.12"/>
<ellipse cx="265.7" cy="123.0" rx="1.66" ry="1.97" transform="rotate(177 265.7 123.0)" fill="rgb(31,31,31)" stroke="#ffffff" stroke-width="0.9" stroke-opacity="0.45"/>
<ellipse cx="226.4" cy="159.8" rx="2.41" ry="1.90" transform="rotate(108 226.4 159.8)" fill="rgb(35,35,35)" stroke="#ffffff" stroke-width="0.9" stroke-opacity="0.30"/>
<ellipse cx="244.5" cy="65.1" rx="2.55" ry="1.68" transform="rotate(65 244.5 65.1)" fill="rgb(86,86,86)" stroke="#ffffff" stroke-width="0.9" stroke-opacity="0.58"/>
<ellipse cx="291.0" cy="91.3" rx="1.97" ry="1.60" transform="rotate(75 291.0 91.3)" fill="rgb(38,38,38)" stroke="#ffffff" stroke-width="0.9" stroke-opacity="0.29"/>
<ellipse cx="266.1" cy="117.1" rx="1.96" ry="1.72" transform="rotate(121 266.1 117.1)" fill="rgb(74,74,74)" stroke="#ffffff" stroke-width="0.9" stroke-opacity="0.23"/>
<ellipse cx="273.0" cy="86.6" rx="2.34" ry="2.38" transform="rotate(141 273.0 86.6)" fill="rgb(65,65,65)" stroke="#ffffff" stroke-width="0.9" stroke-opacity="0.28"/>
<ellipse cx="247.0" cy="84.1" rx="2.17" ry="1.80" transform="rotate(95 247.0 84.1)" fill="rgb(31,31,31)" stroke="#ffffff" stroke-width="0.9" stroke-opacity="0.55"/>
<ellipse cx="276.7" cy="84.1" rx="2.96" ry="1.79" transform="rotate(94 276.7 84.1)" fill="rgb(22,22,22)" stroke="#ffffff" stroke-width="0.9" stroke-opacity="0.35"/>
<ellipse cx="221.8" cy="104.7" rx="2.47" ry="1.59" transform="rotate(39 221.8 104.7)" fill="rgb(27,27,27)" stroke="#ffffff" stroke-width="0.9" stroke-opacity="0.43"/>
<ellipse cx="204.1" cy="118.0" rx="2.36" ry="1.61" transform="rotate(62 204.1 118.0)" fill="rgb(63,63,63)" stroke="#ffffff" stroke-width="0.9" stroke-opacity="0.16"/>
<ellipse cx="234.8" cy="132.2" rx="1.86" ry="1.52" transform="rotate(111 234.8 132.2)" fill="rgb(25,25,25)" stroke="#ffffff" stroke-width="0.9" stroke-opacity="0.47"/>
<ellipse cx="268.9" cy="87.3" rx="2.78" ry="2.16" transform="rotate(57 268.9 87.3)" fill="rgb(20,20,20)" stroke="#ffffff" stroke-width="0.9" stroke-opacity="0.34"/>
<ellipse cx="198.3" cy="116.5" rx="2.56" ry="2.12" transform="rotate(33 198.3 116.5)" fill="rgb(35,35,35)" stroke="#ffffff" stroke-width="0.9" stroke-opacity="0.46"/>
<ellipse cx="248.5" cy="65.5" rx="1.80" ry="1.69" transform="rotate(75 248.5 65.5)" fill="rgb(37,37,37)" stroke="#ffffff" stroke-width="0.9" stroke-opacity="0.58"/>
<ellipse cx="215.5" cy="127.0" rx="2.33" ry="1.43" transform="rotate(13 215.5 127.0)" fill="rgb(67,67,67)" stroke="#ffffff" stroke-width="0.9" stroke-opacity="0.43"/>
<ellipse cx="224.0" cy="152.0" rx="2.38" ry="1.84" transform="rotate(113 224.0 152.0)" fill="rgb(19,19,19)" stroke="#ffffff" stroke-width="0.9" stroke-opacity="0.28"/>
<ellipse cx="267.3" cy="126.6" rx="2.08" ry="1.93" transform="rotate(46 267.3 126.6)" fill="rgb(55,55,55)" stroke="#ffffff" stroke-width="0.9" stroke-opacity="0.61"/>
<ellipse cx="226.7" cy="109.1" rx="2.56" ry="2.07" transform="rotate(163 226.7 109.1)" fill="rgb(53,53,53)" stroke="#ffffff" stroke-width="0.9" stroke-opacity="0.27"/>
<ellipse cx="259.2" cy="86.8" rx="2.28" ry="2.09" transform="rotate(57 259.2 86.8)" fill="rgb(35,35,35)" stroke="#ffffff" stroke-width="0.9" stroke-opacity="0.41"/>
<ellipse cx="254.6" cy="124.1" rx="2.48" ry="1.67" transform="rotate(7 254.6 124.1)" fill="rgb(53,53,53)" stroke="#ffffff" stroke-width="0.9" stroke-opacity="0.32"/>
<ellipse cx="257.9" cy="122.6" rx="2.10" ry="1.87" transform="rotate(48 257.9 122.6)" fill="rgb(42,42,42)" stroke="#ffffff" stroke-width="0.9" stroke-opacity="0.41"/>
<ellipse cx="254.9" cy="113.1" rx="2.83" ry="1.80" transform="rotate(109 254.9 113.1)" fill="rgb(82,82,82)" stroke="#ffffff" stroke-width="0.9" stroke-opacity="0.37"/>
<ellipse cx="221.4" cy="120.4" rx="2.36" ry="1.41" transform="rotate(158 221.4 120.4)" fill="rgb(16,16,16)" stroke="#ffffff" stroke-width="0.9" stroke-opacity="0.49"/>
<ellipse cx="247.2" cy="101.2" rx="2.03" ry="1.90" transform="rotate(40 247.2 101.2)" fill="rgb(49,49,49)" stroke="#ffffff" stroke-width="0.9" stroke-opacity="0.46"/>
<ellipse cx="211.8" cy="138.3" rx="2.37" ry="1.96" transform="rotate(25 211.8 138.3)" fill="rgb(24,24,24)" stroke="#ffffff" stroke-width="0.9" stroke-opacity="0.45"/>
<ellipse cx="273.3" cy="101.8" rx="2.27" ry="1.64" transform="rotate(142 273.3 101.8)" fill="rgb(32,32,32)" stroke="#ffffff" stroke-width="0.9" stroke-opacity="0.40"/>
<ellipse cx="232.1" cy="138.5" rx="2.86" ry="2.50" transform="rotate(128 232.1 138.5)" fill="rgb(42,42,42)" stroke="#ffffff" stroke-width="0.9" stroke-opacity="0.22"/>
<ellipse cx="234.7" cy="113.1" rx="2.76" ry="2.42" transform="rotate(135 234.7 113.1)" fill="rgb(36,36,36)" stroke="#ffffff" stroke-width="0.9" stroke-opacity="0.17"/>
<ellipse cx="253.7" cy="81.7" rx="2.18" ry="1.84" transform="rotate(121 253.7 81.7)" fill="rgb(51,51,51)" stroke="#ffffff" stroke-width="0.9" stroke-opacity="0.55"/>
<ellipse cx="291.4" cy="114.1" rx="2.00" ry="1.99" transform="rotate(91 291.4 114.1)" fill="rgb(19,19,19)" stroke="#ffffff" stroke-width="0.9" stroke-opacity="0.46"/>
<ellipse cx="238.0" cy="146.6" rx="1.87" ry="2.04" transform="rotate(98 238.0 146.6)" fill="rgb(34,34,34)" stroke="#ffffff" stroke-width="0.9" stroke-opacity="0.30"/>
<ellipse cx="228.6" cy="119.7" rx="1.88" ry="1.68" transform="rotate(111 228.6 119.7)" fill="rgb(29,29,29)" stroke="#ffffff" stroke-width="0.9" stroke-opacity="0.43"/>
<ellipse cx="277.8" cy="70.7" rx="2.62" ry="1.67" transform="rotate(146 277.8 70.7)" fill="rgb(86,86,86)" stroke="#ffffff" stroke-width="0.9" stroke-opacity="0.20"/>
<ellipse cx="219.9" cy="111.6" rx="2.26" ry="2.12" transform="rotate(100 219.9 111.6)" fill="rgb(32,32,32)" stroke="#ffffff" stroke-width="0.9" stroke-opacity="0.55"/>
<ellipse cx="234.7" cy="74.2" rx="2.54" ry="1.87" transform="rotate(49 234.7 74.2)" fill="rgb(36,36,36)" stroke="#ffffff" stroke-width="0.9" stroke-opacity="0.61"/>
<ellipse cx="207.9" cy="120.3" rx="2.06" ry="2.19" transform="rotate(121 207.9 120.3)" fill="rgb(27,27,27)" stroke="#ffffff" stroke-width="0.9" stroke-opacity="0.33"/>
<ellipse cx="263.9" cy="69.2" rx="2.54" ry="2.25" transform="rotate(159 263.9 69.2)" fill="rgb(56,56,56)" stroke="#ffffff" stroke-width="0.9" stroke-opacity="0.26"/>
<ellipse cx="233.4" cy="97.3" rx="1.96" ry="1.94" transform="rotate(34 233.4 97.3)" fill="rgb(43,43,43)" stroke="#ffffff" stroke-width="0.9" stroke-opacity="0.56"/>
<ellipse cx="207.4" cy="155.2" rx="2.50" ry="1.94" transform="rotate(158 207.4 155.2)" fill="rgb(66,66,66)" stroke="#ffffff" stroke-width="0.9" stroke-opacity="0.17"/>
<ellipse cx="241.3" cy="121.0" rx="2.63" ry="1.94" transform="rotate(157 241.3 121.0)" fill="rgb(15,15,15)" stroke="#ffffff" stroke-width="0.9" stroke-opacity="0.40"/>
<ellipse cx="277.8" cy="119.8" rx="2.23" ry="1.69" transform="rotate(111 277.8 119.8)" fill="rgb(34,34,34)" stroke="#ffffff" stroke-width="0.9" stroke-opacity="0.50"/>
<ellipse cx="263.0" cy="76.2" rx="2.20" ry="1.45" transform="rotate(135 263.0 76.2)" fill="rgb(32,32,32)" stroke="#ffffff" stroke-width="0.9" stroke-opacity="0.28"/>
<ellipse cx="253.6" cy="77.4" rx="2.73" ry="2.22" transform="rotate(33 253.6 77.4)" fill="rgb(50,50,50)" stroke="#ffffff" stroke-width="0.9" stroke-opacity="0.16"/>
<ellipse cx="243.0" cy="144.5" rx="1.84" ry="1.97" transform="rotate(145 243.0 144.5)" fill="rgb(29,29,29)" stroke="#ffffff" stroke-width="0.9" stroke-opacity="0.36"/>
<ellipse cx="260.3" cy="113.8" rx="2.08" ry="1.88" transform="rotate(4 260.3 113.8)" fill="rgb(42,42,42)" stroke="#ffffff" stroke-width="0.9" stroke-opacity="0.20"/>
<ellipse cx="284.6" cy="127.5" rx="2.67" ry="1.83" transform="rotate(178 284.6 127.5)" fill="rgb(18,18,18)" stroke="#ffffff" stroke-width="0.9" stroke-opacity="0.31"/>
<ellipse cx="281.6" cy="85.4" rx="1.80" ry="2.01" transform="rotate(69 281.6 85.4)" fill="rgb(37,37,37)" stroke="#ffffff" stroke-width="0.9" stroke-opacity="0.55"/>
<ellipse cx="198.7" cy="145.5" rx="2.26" ry="1.81" transform="rotate(30 198.7 145.5)" fill="rgb(52,52,52)" stroke="#ffffff" stroke-width="0.9" stroke-opacity="0.26"/>
<ellipse cx="214.2" cy="104.4" rx="2.10" ry="1.88" transform="rotate(114 214.2 104.4)" fill="rgb(68,68,68)" stroke="#ffffff" stroke-width="0.9" stroke-opacity="0.24"/>
<ellipse cx="240.7" cy="93.9" rx="1.92" ry="1.52" transform="rotate(170 240.7 93.9)" fill="rgb(77,77,77)" stroke="#ffffff" stroke-width="0.9" stroke-opacity="0.17"/>
<ellipse cx="288.6" cy="107.6" rx="2.41" ry="1.40" transform="rotate(108 288.6 107.6)" fill="rgb(22,22,22)" stroke="#ffffff" stroke-width="0.9" stroke-opacity="0.14"/>
<ellipse cx="228.4" cy="129.8" rx="2.58" ry="1.81" transform="rotate(51 228.4 129.8)" fill="rgb(38,38,38)" stroke="#ffffff" stroke-width="0.9" stroke-opacity="0.44"/>
<ellipse cx="241.1" cy="107.6" rx="2.13" ry="2.01" transform="rotate(87 241.1 107.6)" fill="rgb(22,22,22)" stroke="#ffffff" stroke-width="0.9" stroke-opacity="0.23"/>
<ellipse cx="214.5" cy="143.8" rx="1.92" ry="1.57" transform="rotate(167 214.5 143.8)" fill="rgb(14,14,14)" stroke="#ffffff" stroke-width="0.9" stroke-opacity="0.49"/>
<ellipse cx="287.7" cy="99.6" rx="1.82" ry="1.48" transform="rotate(111 287.7 99.6)" fill="rgb(27,27,27)" stroke="#ffffff" stroke-width="0.9" stroke-opacity="0.14"/>
<ellipse cx="233.4" cy="106.9" rx="2.82" ry="1.73" transform="rotate(158 233.4 106.9)" fill="rgb(40,40,40)" stroke="#ffffff" stroke-width="0.9" stroke-opacity="0.36"/>
<ellipse cx="237.1" cy="109.9" rx="1.68" ry="1.41" transform="rotate(108 237.1 109.9)" fill="rgb(50,50,50)" stroke="#ffffff" stroke-width="0.9" stroke-opacity="0.51"/>
<ellipse cx="212.2" cy="131.6" rx="1.95" ry="1.84" transform="rotate(9 212.2 131.6)" fill="rgb(43,43,43)" stroke="#ffffff" stroke-width="0.9" stroke-opacity="0.27"/>
<ellipse cx="190.8" cy="125.7" rx="2.31" ry="1.55" transform="rotate(43 190.8 125.7)" fill="rgb(25,25,25)" stroke="#ffffff" stroke-width="0.9" stroke-opacity="0.22"/>
<ellipse cx="255.6" cy="132.1" rx="2.74" ry="1.90" transform="rotate(91 255.6 132.1)" fill="rgb(50,50,50)" stroke="#ffffff" stroke-width="0.9" stroke-opacity="0.28"/>
<ellipse cx="268.6" cy="92.3" rx="1.90" ry="2.05" transform="rotate(161 268.6 92.3)" fill="rgb(20,20,20)" stroke="#ffffff" stroke-width="0.9" stroke-opacity="0.59"/>
<ellipse cx="215.4" cy="156.5" rx="2.24" ry="1.81" transform="rotate(180 215.4 156.5)" fill="rgb(32,32,32)" stroke="#ffffff" stroke-width="0.9" stroke-opacity="0.49"/>
<ellipse cx="237.0" cy="103.7" rx="1.68" ry="1.97" transform="rotate(32 237.0 103.7)" fill="rgb(22,22,22)" stroke="#ffffff" stroke-width="0.9" stroke-opacity="0.59"/>
<ellipse cx="249.3" cy="128.4" rx="1.69" ry="1.65" transform="rotate(43 249.3 128.4)" fill="rgb(32,32,32)" stroke="#ffffff" stroke-width="0.9" stroke-opacity="0.29"/>
<ellipse cx="287.6" cy="114.1" rx="1.75" ry="1.46" transform="rotate(86 287.6 114.1)" fill="rgb(41,41,41)" stroke="#ffffff" stroke-width="0.9" stroke-opacity="0.34"/>
<ellipse cx="240.2" cy="80.1" rx="1.86" ry="1.58" transform="rotate(177 240.2 80.1)" fill="rgb(55,55,55)" stroke="#ffffff" stroke-width="0.9" stroke-opacity="0.36"/>
<ellipse cx="261.9" cy="89.7" rx="2.43" ry="1.80" transform="rotate(74 261.9 89.7)" fill="rgb(21,21,21)" stroke="#ffffff" stroke-width="0.9" stroke-opacity="0.13"/>
<ellipse cx="211.0" cy="96.7" rx="1.91" ry="1.72" transform="rotate(175 211.0 96.7)" fill="rgb(38,38,38)" stroke="#ffffff" stroke-width="0.9" stroke-opacity="0.42"/>
<ellipse cx="289.5" cy="121.2" rx="2.21" ry="1.91" transform="rotate(67 289.5 121.2)" fill="rgb(22,22,22)" stroke="#ffffff" stroke-width="0.9" stroke-opacity="0.32"/>
<ellipse cx="228.0" cy="94.0" rx="2.13" ry="2.00" transform="rotate(48 228.0 94.0)" fill="rgb(39,39,39)" stroke="#ffffff" stroke-width="0.9" stroke-opacity="0.41"/>
<ellipse cx="221.1" cy="128.0" rx="2.86" ry="1.84" transform="rotate(22 221.1 128.0)" fill="rgb(76,76,76)" stroke="#ffffff" stroke-width="0.9" stroke-opacity="0.59"/>
<ellipse cx="247.6" cy="119.9" rx="2.32" ry="2.14" transform="rotate(37 247.6 119.9)" fill="rgb(28,28,28)" stroke="#ffffff" stroke-width="0.9" stroke-opacity="0.42"/>
<ellipse cx="207.6" cy="164.8" rx="1.84" ry="1.53" transform="rotate(169 207.6 164.8)" fill="rgb(78,78,78)" stroke="#ffffff" stroke-width="0.9" stroke-opacity="0.31"/>
<ellipse cx="226.7" cy="100.4" rx="2.04" ry="2.06" transform="rotate(46 226.7 100.4)" fill="rgb(30,30,30)" stroke="#ffffff" stroke-width="0.9" stroke-opacity="0.51"/>
<ellipse cx="278.8" cy="102.7" rx="2.29" ry="2.12" transform="rotate(81 278.8 102.7)" fill="rgb(75,75,75)" stroke="#ffffff" stroke-width="0.9" stroke-opacity="0.55"/>
<ellipse cx="210.3" cy="111.7" rx="2.10" ry="1.84" transform="rotate(34 210.3 111.7)" fill="rgb(36,36,36)" stroke="#ffffff" stroke-width="0.9" stroke-opacity="0.30"/>
<ellipse cx="238.5" cy="71.0" rx="2.52" ry="1.57" transform="rotate(125 238.5 71.0)" fill="rgb(55,55,55)" stroke="#ffffff" stroke-width="0.9" stroke-opacity="0.56"/>
<ellipse cx="239.2" cy="63.9" rx="2.31" ry="1.89" transform="rotate(90 239.2 63.9)" fill="rgb(17,17,17)" stroke="#ffffff" stroke-width="0.9" stroke-opacity="0.35"/>
<ellipse cx="230.5" cy="142.4" rx="2.76" ry="1.95" transform="rotate(63 230.5 142.4)" fill="rgb(63,63,63)" stroke="#ffffff" stroke-width="0.9" stroke-opacity="0.41"/>
<ellipse cx="201.2" cy="108.6" rx="1.79" ry="2.07" transform="rotate(87 201.2 108.6)" fill="rgb(19,19,19)" stroke="#ffffff" stroke-width="0.9" stroke-opacity="0.52"/>
<ellipse cx="231.8" cy="123.8" rx="2.09" ry="1.72" transform="rotate(24 231.8 123.8)" fill="rgb(21,21,21)" stroke="#ffffff" stroke-width="0.9" stroke-opacity="0.17"/>
<ellipse cx="205.6" cy="150.1" rx="2.63" ry="1.80" transform="rotate(92 205.6 150.1)" fill="rgb(58,58,58)" stroke="#ffffff" stroke-width="0.9" stroke-opacity="0.40"/>
<ellipse cx="269.8" cy="100.0" rx="2.34" ry="2.15" transform="rotate(41 269.8 100.0)" fill="rgb(60,60,60)" stroke="#ffffff" stroke-width="0.9" stroke-opacity="0.22"/>
<ellipse cx="212.8" cy="119.8" rx="2.00" ry="1.86" transform="rotate(54 212.8 119.8)" fill="rgb(90,90,90)" stroke="#ffffff" stroke-width="0.9" stroke-opacity="0.54"/>
<ellipse cx="205.8" cy="109.7" rx="2.57" ry="1.92" transform="rotate(39 205.8 109.7)" fill="rgb(33,33,33)" stroke="#ffffff" stroke-width="0.9" stroke-opacity="0.37"/>
<ellipse cx="258.5" cy="103.0" rx="2.36" ry="2.44" transform="rotate(178 258.5 103.0)" fill="rgb(85,85,85)" stroke="#ffffff" stroke-width="0.9" stroke-opacity="0.24"/>
<ellipse cx="267.7" cy="66.7" rx="2.08" ry="1.59" transform="rotate(3 267.7 66.7)" fill="rgb(71,71,71)" stroke="#ffffff" stroke-width="0.9" stroke-opacity="0.17"/>
<ellipse cx="271.3" cy="79.9" rx="2.45" ry="1.98" transform="rotate(46 271.3 79.9)" fill="rgb(69,69,69)" stroke="#ffffff" stroke-width="0.9" stroke-opacity="0.26"/>
<ellipse cx="246.4" cy="112.8" rx="2.45" ry="1.69" transform="rotate(110 246.4 112.8)" fill="rgb(90,90,90)" stroke="#ffffff" stroke-width="0.9" stroke-opacity="0.42"/>
<ellipse cx="227.8" cy="68.8" rx="2.63" ry="2.21" transform="rotate(143 227.8 68.8)" fill="rgb(64,64,64)" stroke="#ffffff" stroke-width="0.9" stroke-opacity="0.55"/>
<ellipse cx="281.4" cy="99.6" rx="2.44" ry="2.12" transform="rotate(107 281.4 99.6)" fill="rgb(15,15,15)" stroke="#ffffff" stroke-width="0.9" stroke-opacity="0.36"/>
<ellipse cx="250.4" cy="111.0" rx="2.77" ry="2.37" transform="rotate(19 250.4 111.0)" fill="rgb(31,31,31)" stroke="#ffffff" stroke-width="0.9" stroke-opacity="0.44"/>
<ellipse cx="194.5" cy="147.8" rx="2.43" ry="1.83" transform="rotate(165 194.5 147.8)" fill="rgb(76,76,76)" stroke="#ffffff" stroke-width="0.9" stroke-opacity="0.53"/>
<ellipse cx="203.4" cy="128.4" rx="2.33" ry="1.68" transform="rotate(12 203.4 128.4)" fill="rgb(59,59,59)" stroke="#ffffff" stroke-width="0.9" stroke-opacity="0.45"/>
<ellipse cx="218.3" cy="99.0" rx="2.08" ry="1.95" transform="rotate(112 218.3 99.0)" fill="rgb(88,88,88)" stroke="#ffffff" stroke-width="0.9" stroke-opacity="0.39"/>
<ellipse cx="226.2" cy="123.6" rx="1.76" ry="1.76" transform="rotate(160 226.2 123.6)" fill="rgb(54,54,54)" stroke="#ffffff" stroke-width="0.9" stroke-opacity="0.32"/>
<ellipse cx="276.6" cy="78.7" rx="2.53" ry="1.83" transform="rotate(2 276.6 78.7)" fill="rgb(23,23,23)" stroke="#ffffff" stroke-width="0.9" stroke-opacity="0.34"/>
<ellipse cx="234.3" cy="143.8" rx="2.41" ry="1.83" transform="rotate(169 234.3 143.8)" fill="rgb(26,26,26)" stroke="#ffffff" stroke-width="0.9" stroke-opacity="0.58"/>
<ellipse cx="222.4" cy="141.0" rx="1.86" ry="2.06" transform="rotate(132 222.4 141.0)" fill="rgb(66,66,66)" stroke="#ffffff" stroke-width="0.9" stroke-opacity="0.62"/>
<ellipse cx="242.7" cy="127.2" rx="2.17" ry="2.35" transform="rotate(147 242.7 127.2)" fill="rgb(46,46,46)" stroke="#ffffff" stroke-width="0.9" stroke-opacity="0.62"/>
<ellipse cx="217.3" cy="122.4" rx="2.22" ry="1.89" transform="rotate(152 217.3 122.4)" fill="rgb(64,64,64)" stroke="#ffffff" stroke-width="0.9" stroke-opacity="0.27"/>
<ellipse cx="215.5" cy="133.6" rx="1.78" ry="2.01" transform="rotate(142 215.5 133.6)" fill="rgb(24,24,24)" stroke="#ffffff" stroke-width="0.9" stroke-opacity="0.42"/>
<ellipse cx="258.7" cy="129.1" rx="2.11" ry="2.06" transform="rotate(113 258.7 129.1)" fill="rgb(36,36,36)" stroke="#ffffff" stroke-width="0.9" stroke-opacity="0.62"/>
<ellipse cx="286.3" cy="91.4" rx="2.48" ry="2.11" transform="rotate(154 286.3 91.4)" fill="rgb(80,80,80)" stroke="#ffffff" stroke-width="0.9" stroke-opacity="0.34"/>
<ellipse cx="206.2" cy="100.4" rx="1.87" ry="1.78" transform="rotate(55 206.2 100.4)" fill="rgb(37,37,37)" stroke="#ffffff" stroke-width="0.9" stroke-opacity="0.56"/>
<ellipse cx="195.6" cy="112.7" rx="1.78" ry="1.88" transform="rotate(99 195.6 112.7)" fill="rgb(31,31,31)" stroke="#ffffff" stroke-width="0.9" stroke-opacity="0.51"/>
<ellipse cx="236.8" cy="98.8" rx="1.95" ry="2.34" transform="rotate(156 236.8 98.8)" fill="rgb(58,58,58)" stroke="#ffffff" stroke-width="0.9" stroke-opacity="0.39"/>
<ellipse cx="273.9" cy="106.8" rx="2.15" ry="1.84" transform="rotate(83 273.9 106.8)" fill="rgb(83,83,83)" stroke="#ffffff" stroke-width="0.9" stroke-opacity="0.55"/>
<ellipse cx="276.8" cy="95.2" rx="2.35" ry="1.84" transform="rotate(114 276.8 95.2)" fill="rgb(77,77,77)" stroke="#ffffff" stroke-width="0.9" stroke-opacity="0.32"/>
<ellipse cx="236.9" cy="91.4" rx="1.74" ry="1.62" transform="rotate(166 236.9 91.4)" fill="rgb(41,41,41)" stroke="#ffffff" stroke-width="0.9" stroke-opacity="0.23"/>
<ellipse cx="226.8" cy="114.4" rx="2.29" ry="1.58" transform="rotate(132 226.8 114.4)" fill="rgb(22,22,22)" stroke="#ffffff" stroke-width="0.9" stroke-opacity="0.45"/>
<ellipse cx="266.6" cy="73.1" rx="2.35" ry="2.01" transform="rotate(148 266.6 73.1)" fill="rgb(88,88,88)" stroke="#ffffff" stroke-width="0.9" stroke-opacity="0.50"/>
<ellipse cx="208.7" cy="144.2" rx="2.11" ry="2.23" transform="rotate(49 208.7 144.2)" fill="rgb(20,20,20)" stroke="#ffffff" stroke-width="0.9" stroke-opacity="0.17"/>
<ellipse cx="230.5" cy="114.2" rx="1.77" ry="1.75" transform="rotate(29 230.5 114.2)" fill="rgb(34,34,34)" stroke="#ffffff" stroke-width="0.9" stroke-opacity="0.30"/>
<ellipse cx="206.7" cy="134.0" rx="2.23" ry="1.82" transform="rotate(30 206.7 134.0)" fill="rgb(34,34,34)" stroke="#ffffff" stroke-width="0.9" stroke-opacity="0.60"/>
<ellipse cx="194.8" cy="123.2" rx="2.29" ry="1.68" transform="rotate(11 194.8 123.2)" fill="rgb(56,56,56)" stroke="#ffffff" stroke-width="0.9" stroke-opacity="0.41"/>
<ellipse cx="260.8" cy="119.9" rx="2.31" ry="1.66" transform="rotate(81 260.8 119.9)" fill="rgb(19,19,19)" stroke="#ffffff" stroke-width="0.9" stroke-opacity="0.50"/>
<ellipse cx="220.5" cy="144.5" rx="2.38" ry="2.23" transform="rotate(38 220.5 144.5)" fill="rgb(53,53,53)" stroke="#ffffff" stroke-width="0.9" stroke-opacity="0.56"/>
<ellipse cx="272.5" cy="91.0" rx="2.58" ry="2.34" transform="rotate(84 272.5 91.0)" fill="rgb(36,36,36)" stroke="#ffffff" stroke-width="0.9" stroke-opacity="0.38"/>
<ellipse cx="207.8" cy="138.8" rx="2.70" ry="2.25" transform="rotate(90 207.8 138.8)" fill="rgb(30,30,30)" stroke="#ffffff" stroke-width="0.9" stroke-opacity="0.25"/>
<ellipse cx="281.0" cy="127.9" rx="2.38" ry="1.74" transform="rotate(136 281.0 127.9)" fill="rgb(41,41,41)" stroke="#ffffff" stroke-width="0.9" stroke-opacity="0.58"/>
<ellipse cx="217.4" cy="92.8" rx="1.86" ry="1.90" transform="rotate(73 217.4 92.8)" fill="rgb(67,67,67)" stroke="#ffffff" stroke-width="0.9" stroke-opacity="0.28"/>
<ellipse cx="228.4" cy="84.0" rx="1.97" ry="1.78" transform="rotate(99 228.4 84.0)" fill="rgb(49,49,49)" stroke="#ffffff" stroke-width="0.9" stroke-opacity="0.43"/>
<ellipse cx="200.7" cy="149.0" rx="2.36" ry="2.28" transform="rotate(1 200.7 149.0)" fill="rgb(47,47,47)" stroke="#ffffff" stroke-width="0.9" stroke-opacity="0.55"/>
<ellipse cx="283.9" cy="121.4" rx="2.52" ry="2.20" transform="rotate(72 283.9 121.4)" fill="rgb(65,65,65)" stroke="#ffffff" stroke-width="0.9" stroke-opacity="0.57"/>
<ellipse cx="208.2" cy="169.0" rx="1.82" ry="1.66" transform="rotate(76 208.2 169.0)" fill="rgb(34,34,34)" stroke="#ffffff" stroke-width="0.9" stroke-opacity="0.52"/>
<ellipse cx="229.5" cy="155.8" rx="2.25" ry="1.69" transform="rotate(33 229.5 155.8)" fill="rgb(14,14,14)" stroke="#ffffff" stroke-width="0.9" stroke-opacity="0.53"/>
<ellipse cx="273.4" cy="113.8" rx="2.45" ry="1.54" transform="rotate(101 273.4 113.8)" fill="rgb(45,45,45)" stroke="#ffffff" stroke-width="0.9" stroke-opacity="0.22"/>
<ellipse cx="229.0" cy="65.3" rx="2.18" ry="1.74" transform="rotate(151 229.0 65.3)" fill="rgb(23,23,23)" stroke="#ffffff" stroke-width="0.9" stroke-opacity="0.56"/>
<ellipse cx="248.6" cy="76.9" rx="2.84" ry="1.86" transform="rotate(174 248.6 76.9)" fill="rgb(26,26,26)" stroke="#ffffff" stroke-width="0.9" stroke-opacity="0.56"/>
<ellipse cx="273.7" cy="118.0" rx="1.88" ry="1.79" transform="rotate(157 273.7 118.0)" fill="rgb(28,28,28)" stroke="#ffffff" stroke-width="0.9" stroke-opacity="0.38"/>
<ellipse cx="279.4" cy="106.5" rx="2.39" ry="1.67" transform="rotate(171 279.4 106.5)" fill="rgb(76,76,76)" stroke="#ffffff" stroke-width="0.9" stroke-opacity="0.26"/>
<ellipse cx="246.3" cy="106.7" rx="2.46" ry="1.58" transform="rotate(10 246.3 106.7)" fill="rgb(22,22,22)" stroke="#ffffff" stroke-width="0.9" stroke-opacity="0.32"/>
<ellipse cx="237.8" cy="143.0" rx="2.25" ry="2.43" transform="rotate(27 237.8 143.0)" fill="rgb(44,44,44)" stroke="#ffffff" stroke-width="0.9" stroke-opacity="0.43"/>
<ellipse cx="254.6" cy="127.9" rx="2.38" ry="1.56" transform="rotate(104 254.6 127.9)" fill="rgb(32,32,32)" stroke="#ffffff" stroke-width="0.9" stroke-opacity="0.16"/>
<ellipse cx="203.5" cy="132.1" rx="2.19" ry="1.59" transform="rotate(139 203.5 132.1)" fill="rgb(42,42,42)" stroke="#ffffff" stroke-width="0.9" stroke-opacity="0.21"/>
<ellipse cx="251.6" cy="98.3" rx="2.02" ry="2.03" transform="rotate(16 251.6 98.3)" fill="rgb(30,30,30)" stroke="#ffffff" stroke-width="0.9" stroke-opacity="0.46"/>
<ellipse cx="238.5" cy="137.6" rx="2.40" ry="1.90" transform="rotate(4 238.5 137.6)" fill="rgb(45,45,45)" stroke="#ffffff" stroke-width="0.9" stroke-opacity="0.13"/>
<ellipse cx="207.4" cy="127.6" rx="2.01" ry="2.19" transform="rotate(70 207.4 127.6)" fill="rgb(48,48,48)" stroke="#ffffff" stroke-width="0.9" stroke-opacity="0.15"/>
<ellipse cx="189.1" cy="112.2" rx="2.43" ry="1.78" transform="rotate(46 189.1 112.2)" fill="rgb(24,24,24)" stroke="#ffffff" stroke-width="0.9" stroke-opacity="0.16"/>
<ellipse cx="291.3" cy="102.5" rx="2.25" ry="1.91" transform="rotate(66 291.3 102.5)" fill="rgb(50,50,50)" stroke="#ffffff" stroke-width="0.9" stroke-opacity="0.32"/>
<ellipse cx="260.0" cy="62.7" rx="1.71" ry="2.19" transform="rotate(139 260.0 62.7)" fill="rgb(52,52,52)" stroke="#ffffff" stroke-width="0.9" stroke-opacity="0.54"/>
<ellipse cx="279.5" cy="113.7" rx="2.13" ry="1.92" transform="rotate(79 279.5 113.7)" fill="rgb(50,50,50)" stroke="#ffffff" stroke-width="0.9" stroke-opacity="0.26"/>
<ellipse cx="243.6" cy="116.0" rx="2.90" ry="2.50" transform="rotate(84 243.6 116.0)" fill="rgb(25,25,25)" stroke="#ffffff" stroke-width="0.9" stroke-opacity="0.61"/>
<ellipse cx="261.5" cy="126.2" rx="2.49" ry="2.12" transform="rotate(104 261.5 126.2)" fill="rgb(77,77,77)" stroke="#ffffff" stroke-width="0.9" stroke-opacity="0.47"/>
<ellipse cx="224.4" cy="93.2" rx="1.79" ry="1.94" transform="rotate(20 224.4 93.2)" fill="rgb(15,15,15)" stroke="#ffffff" stroke-width="0.9" stroke-opacity="0.21"/>
<ellipse cx="221.9" cy="97.2" rx="2.58" ry="1.91" transform="rotate(117 221.9 97.2)" fill="rgb(41,41,41)" stroke="#ffffff" stroke-width="0.9" stroke-opacity="0.50"/>
<ellipse cx="263.7" cy="129.2" rx="1.84" ry="1.61" transform="rotate(171 263.7 129.2)" fill="rgb(25,25,25)" stroke="#ffffff" stroke-width="0.9" stroke-opacity="0.14"/>
<ellipse cx="217.0" cy="117.9" rx="2.10" ry="1.96" transform="rotate(85 217.0 117.9)" fill="rgb(45,45,45)" stroke="#ffffff" stroke-width="0.9" stroke-opacity="0.39"/>
<ellipse cx="269.6" cy="70.9" rx="1.74" ry="1.87" transform="rotate(159 269.6 70.9)" fill="rgb(27,27,27)" stroke="#ffffff" stroke-width="0.9" stroke-opacity="0.40"/>
<ellipse cx="191.7" cy="132.5" rx="2.00" ry="1.79" transform="rotate(131 191.7 132.5)" fill="rgb(73,73,73)" stroke="#ffffff" stroke-width="0.9" stroke-opacity="0.18"/>
<ellipse cx="250.0" cy="86.4" rx="2.10" ry="1.65" transform="rotate(82 250.0 86.4)" fill="rgb(16,16,16)" stroke="#ffffff" stroke-width="0.9" stroke-opacity="0.34"/>
<ellipse cx="248.3" cy="71.7" rx="2.74" ry="1.80" transform="rotate(35 248.3 71.7)" fill="rgb(90,90,90)" stroke="#ffffff" stroke-width="0.9" stroke-opacity="0.50"/>
<ellipse cx="229.7" cy="104.8" rx="2.69" ry="1.81" transform="rotate(170 229.7 104.8)" fill="rgb(50,50,50)" stroke="#ffffff" stroke-width="0.9" stroke-opacity="0.36"/>
<ellipse cx="236.1" cy="78.7" rx="2.37" ry="1.81" transform="rotate(61 236.1 78.7)" fill="rgb(13,13,13)" stroke="#ffffff" stroke-width="0.9" stroke-opacity="0.40"/>
<ellipse cx="230.0" cy="159.6" rx="2.14" ry="2.12" transform="rotate(58 230.0 159.6)" fill="rgb(43,43,43)" stroke="#ffffff" stroke-width="0.9" stroke-opacity="0.34"/>
<ellipse cx="204.9" cy="145.8" rx="2.55" ry="2.29" transform="rotate(120 204.9 145.8)" fill="rgb(31,31,31)" stroke="#ffffff" stroke-width="0.9" stroke-opacity="0.47"/>
<ellipse cx="245.1" cy="136.5" rx="2.17" ry="2.11" transform="rotate(71 245.1 136.5)" fill="rgb(23,23,23)" stroke="#ffffff" stroke-width="0.9" stroke-opacity="0.36"/>
<ellipse cx="293.1" cy="119.4" rx="1.98" ry="1.85" transform="rotate(174 293.1 119.4)" fill="rgb(69,69,69)" stroke="#ffffff" stroke-width="0.9" stroke-opacity="0.21"/>
<ellipse cx="215.3" cy="160.7" rx="1.97" ry="1.95" transform="rotate(107 215.3 160.7)" fill="rgb(15,15,15)" stroke="#ffffff" stroke-width="0.9" stroke-opacity="0.37"/>
<ellipse cx="221.4" cy="132.9" rx="1.89" ry="1.85" transform="rotate(71 221.4 132.9)" fill="rgb(40,40,40)" stroke="#ffffff" stroke-width="0.9" stroke-opacity="0.46"/>
<ellipse cx="199.2" cy="123.4" rx="2.05" ry="2.14" transform="rotate(130 199.2 123.4)" fill="rgb(40,40,40)" stroke="#ffffff" stroke-width="0.9" stroke-opacity="0.27"/>
<ellipse cx="250.6" cy="114.6" rx="1.79" ry="2.10" transform="rotate(87 250.6 114.6)" fill="rgb(59,59,59)" stroke="#ffffff" stroke-width="0.9" stroke-opacity="0.33"/>
<ellipse cx="211.1" cy="147.7" rx="2.10" ry="1.67" transform="rotate(136 211.1 147.7)" fill="rgb(31,31,31)" stroke="#ffffff" stroke-width="0.9" stroke-opacity="0.18"/>
<ellipse cx="254.5" cy="120.4" rx="2.58" ry="1.91" transform="rotate(160 254.5 120.4)" fill="rgb(37,37,37)" stroke="#ffffff" stroke-width="0.9" stroke-opacity="0.37"/>
<ellipse cx="253.5" cy="85.4" rx="2.37" ry="1.91" transform="rotate(18 253.5 85.4)" fill="rgb(41,41,41)" stroke="#ffffff" stroke-width="0.9" stroke-opacity="0.17"/>
<ellipse cx="220.0" cy="159.7" rx="1.73" ry="1.70" transform="rotate(3 220.0 159.7)" fill="rgb(32,32,32)" stroke="#ffffff" stroke-width="0.9" stroke-opacity="0.18"/>
<ellipse cx="195.4" cy="134.0" rx="2.35" ry="1.69" transform="rotate(64 195.4 134.0)" fill="rgb(28,28,28)" stroke="#ffffff" stroke-width="0.9" stroke-opacity="0.23"/>
<ellipse cx="254.7" cy="65.0" rx="2.53" ry="2.15" transform="rotate(135 254.7 65.0)" fill="rgb(25,25,25)" stroke="#ffffff" stroke-width="0.9" stroke-opacity="0.50"/>
<ellipse cx="226.6" cy="135.1" rx="2.54" ry="2.12" transform="rotate(81 226.6 135.1)" fill="rgb(29,29,29)" stroke="#ffffff" stroke-width="0.9" stroke-opacity="0.24"/>
<ellipse cx="257.4" cy="74.5" rx="1.60" ry="1.59" transform="rotate(78 257.4 74.5)" fill="rgb(76,76,76)" stroke="#ffffff" stroke-width="0.9" stroke-opacity="0.39"/>
<ellipse cx="235.7" cy="127.6" rx="2.12" ry="1.91" transform="rotate(87 235.7 127.6)" fill="rgb(52,52,52)" stroke="#ffffff" stroke-width="0.9" stroke-opacity="0.58"/>
<ellipse cx="229.0" cy="80.3" rx="2.25" ry="1.42" transform="rotate(93 229.0 80.3)" fill="rgb(64,64,64)" stroke="#ffffff" stroke-width="0.9" stroke-opacity="0.49"/>
<ellipse cx="264.4" cy="85.9" rx="2.54" ry="2.15" transform="rotate(6 264.4 85.9)" fill="rgb(25,25,25)" stroke="#ffffff" stroke-width="0.9" stroke-opacity="0.29"/>
<ellipse cx="235.6" cy="149.4" rx="1.66" ry="1.40" transform="rotate(108 235.6 149.4)" fill="rgb(61,61,61)" stroke="#ffffff" stroke-width="0.9" stroke-opacity="0.23"/>
<ellipse cx="240.3" cy="101.2" rx="2.21" ry="1.81" transform="rotate(150 240.3 101.2)" fill="rgb(32,32,32)" stroke="#ffffff" stroke-width="0.9" stroke-opacity="0.54"/>
<ellipse cx="239.4" cy="84.6" rx="2.02" ry="1.74" transform="rotate(75 239.4 84.6)" fill="rgb(69,69,69)" stroke="#ffffff" stroke-width="0.9" stroke-opacity="0.39"/>
<ellipse cx="230.8" cy="76.9" rx="2.00" ry="1.76" transform="rotate(61 230.8 76.9)" fill="rgb(13,13,13)" stroke="#ffffff" stroke-width="0.9" stroke-opacity="0.44"/>
<ellipse cx="206.5" cy="114.3" rx="2.08" ry="1.43" transform="rotate(9 206.5 114.3)" fill="rgb(33,33,33)" stroke="#ffffff" stroke-width="0.9" stroke-opacity="0.42"/>
<ellipse cx="269.0" cy="120.1" rx="2.12" ry="1.80" transform="rotate(84 269.0 120.1)" fill="rgb(31,31,31)" stroke="#ffffff" stroke-width="0.9" stroke-opacity="0.16"/>
<ellipse cx="227.8" cy="151.4" rx="2.49" ry="2.31" transform="rotate(170 227.8 151.4)" fill="rgb(26,26,26)" stroke="#ffffff" stroke-width="0.9" stroke-opacity="0.52"/>
<ellipse cx="219.6" cy="155.7" rx="2.15" ry="1.98" transform="rotate(19 219.6 155.7)" fill="rgb(38,38,38)" stroke="#ffffff" stroke-width="0.9" stroke-opacity="0.50"/>
<ellipse cx="271.9" cy="75.2" rx="2.50" ry="1.85" transform="rotate(131 271.9 75.2)" fill="rgb(39,39,39)" stroke="#ffffff" stroke-width="0.9" stroke-opacity="0.60"/>
<ellipse cx="203.8" cy="105.5" rx="2.38" ry="1.72" transform="rotate(46 203.8 105.5)" fill="rgb(84,84,84)" stroke="#ffffff" stroke-width="0.9" stroke-opacity="0.53"/>
<ellipse cx="232.6" cy="66.0" rx="2.80" ry="1.74" transform="rotate(175 232.6 66.0)" fill="rgb(14,14,14)" stroke="#ffffff" stroke-width="0.9" stroke-opacity="0.25"/>
<ellipse cx="211.5" cy="101.0" rx="1.95" ry="1.66" transform="rotate(61 211.5 101.0)" fill="rgb(42,42,42)" stroke="#ffffff" stroke-width="0.9" stroke-opacity="0.51"/>
<ellipse cx="239.2" cy="129.5" rx="1.73" ry="2.16" transform="rotate(158 239.2 129.5)" fill="rgb(26,26,26)" stroke="#ffffff" stroke-width="0.9" stroke-opacity="0.13"/>
<ellipse cx="249.3" cy="104.5" rx="1.85" ry="1.52" transform="rotate(94 249.3 104.5)" fill="rgb(46,46,46)" stroke="#ffffff" stroke-width="0.9" stroke-opacity="0.27"/>
<ellipse cx="281.3" cy="124.1" rx="2.00" ry="2.36" transform="rotate(160 281.3 124.1)" fill="rgb(32,32,32)" stroke="#ffffff" stroke-width="0.9" stroke-opacity="0.49"/>
<ellipse cx="216.2" cy="89.4" rx="2.29" ry="1.49" transform="rotate(159 216.2 89.4)" fill="rgb(56,56,56)" stroke="#ffffff" stroke-width="0.9" stroke-opacity="0.36"/>
<ellipse cx="203.4" cy="135.9" rx="1.76" ry="1.77" transform="rotate(169 203.4 135.9)" fill="rgb(33,33,33)" stroke="#ffffff" stroke-width="0.9" stroke-opacity="0.16"/>
<ellipse cx="220.3" cy="88.9" rx="1.83" ry="1.41" transform="rotate(147 220.3 88.9)" fill="rgb(66,66,66)" stroke="#ffffff" stroke-width="0.9" stroke-opacity="0.38"/>
<ellipse cx="277.1" cy="127.1" rx="1.68" ry="1.58" transform="rotate(77 277.1 127.1)" fill="rgb(33,33,33)" stroke="#ffffff" stroke-width="0.9" stroke-opacity="0.40"/>
<ellipse cx="224.0" cy="155.8" rx="2.42" ry="1.55" transform="rotate(13 224.0 155.8)" fill="rgb(30,30,30)" stroke="#ffffff" stroke-width="0.9" stroke-opacity="0.48"/>
<ellipse cx="200.4" cy="157.9" rx="1.64" ry="1.65" transform="rotate(143 200.4 157.9)" fill="rgb(28,28,28)" stroke="#ffffff" stroke-width="0.9" stroke-opacity="0.31"/>
<ellipse cx="256.6" cy="91.1" rx="2.32" ry="2.13" transform="rotate(148 256.6 91.1)" fill="rgb(22,22,22)" stroke="#ffffff" stroke-width="0.9" stroke-opacity="0.29"/>
<ellipse cx="210.1" cy="159.5" rx="2.14" ry="1.81" transform="rotate(7 210.1 159.5)" fill="rgb(38,38,38)" stroke="#ffffff" stroke-width="0.9" stroke-opacity="0.41"/>
<ellipse cx="242.5" cy="111.5" rx="1.95" ry="2.18" transform="rotate(128 242.5 111.5)" fill="rgb(40,40,40)" stroke="#ffffff" stroke-width="0.9" stroke-opacity="0.43"/>
<ellipse cx="217.8" cy="108.0" rx="2.05" ry="1.86" transform="rotate(119 217.8 108.0)" fill="rgb(52,52,52)" stroke="#ffffff" stroke-width="0.9" stroke-opacity="0.43"/>
<ellipse cx="283.3" cy="117.1" rx="2.53" ry="1.74" transform="rotate(81 283.3 117.1)" fill="rgb(17,17,17)" stroke="#ffffff" stroke-width="0.9" stroke-opacity="0.24"/>
<ellipse cx="236.6" cy="157.4" rx="2.23" ry="1.95" transform="rotate(152 236.6 157.4)" fill="rgb(20,20,20)" stroke="#ffffff" stroke-width="0.9" stroke-opacity="0.50"/>
<ellipse cx="268.2" cy="112.8" rx="2.13" ry="1.69" transform="rotate(12 268.2 112.8)" fill="rgb(32,32,32)" stroke="#ffffff" stroke-width="0.9" stroke-opacity="0.56"/>
<ellipse cx="224.3" cy="130.1" rx="2.72" ry="1.99" transform="rotate(150 224.3 130.1)" fill="rgb(15,15,15)" stroke="#ffffff" stroke-width="0.9" stroke-opacity="0.22"/>
<ellipse cx="233.3" cy="102.5" rx="2.10" ry="1.92" transform="rotate(164 233.3 102.5)" fill="rgb(82,82,82)" stroke="#ffffff" stroke-width="0.9" stroke-opacity="0.33"/>
<ellipse cx="231.3" cy="92.0" rx="2.34" ry="1.49" transform="rotate(158 231.3 92.0)" fill="rgb(55,55,55)" stroke="#ffffff" stroke-width="0.9" stroke-opacity="0.31"/>
<ellipse cx="223.6" cy="76.1" rx="2.20" ry="1.54" transform="rotate(33 223.6 76.1)" fill="rgb(47,47,47)" stroke="#ffffff" stroke-width="0.9" stroke-opacity="0.26"/>
<ellipse cx="273.9" cy="71.8" rx="2.32" ry="1.69" transform="rotate(176 273.9 71.8)" fill="rgb(27,27,27)" stroke="#ffffff" stroke-width="0.9" stroke-opacity="0.15"/>
<ellipse cx="202.5" cy="153.9" rx="1.75" ry="1.56" transform="rotate(106 202.5 153.9)" fill="rgb(25,25,25)" stroke="#ffffff" stroke-width="0.9" stroke-opacity="0.41"/>
<ellipse cx="197.3" cy="107.1" rx="2.62" ry="1.69" transform="rotate(46 197.3 107.1)" fill="rgb(57,57,57)" stroke="#ffffff" stroke-width="0.9" stroke-opacity="0.48"/>
<ellipse cx="253.9" cy="73.3" rx="1.99" ry="1.88" transform="rotate(151 253.9 73.3)" fill="rgb(56,56,56)" stroke="#ffffff" stroke-width="0.9" stroke-opacity="0.61"/>
<ellipse cx="258.3" cy="83.1" rx="1.77" ry="1.89" transform="rotate(109 258.3 83.1)" fill="rgb(26,26,26)" stroke="#ffffff" stroke-width="0.9" stroke-opacity="0.43"/>
<ellipse cx="250.8" cy="124.6" rx="2.30" ry="2.14" transform="rotate(66 250.8 124.6)" fill="rgb(16,16,16)" stroke="#ffffff" stroke-width="0.9" stroke-opacity="0.27"/>
<ellipse cx="241.1" cy="133.4" rx="2.43" ry="2.12" transform="rotate(122 241.1 133.4)" fill="rgb(48,48,48)" stroke="#ffffff" stroke-width="0.9" stroke-opacity="0.35"/>
<ellipse cx="216.7" cy="140.0" rx="1.78" ry="1.45" transform="rotate(120 216.7 140.0)" fill="rgb(82,82,82)" stroke="#ffffff" stroke-width="0.9" stroke-opacity="0.17"/>
<ellipse cx="223.6" cy="111.6" rx="2.55" ry="1.92" transform="rotate(17 223.6 111.6)" fill="rgb(33,33,33)" stroke="#ffffff" stroke-width="0.9" stroke-opacity="0.54"/>
<ellipse cx="196.7" cy="120.0" rx="1.94" ry="1.70" transform="rotate(161 196.7 120.0)" fill="rgb(34,34,34)" stroke="#ffffff" stroke-width="0.9" stroke-opacity="0.53"/>
<ellipse cx="268.5" cy="82.6" rx="2.48" ry="1.97" transform="rotate(38 268.5 82.6)" fill="rgb(59,59,59)" stroke="#ffffff" stroke-width="0.9" stroke-opacity="0.15"/>
<ellipse cx="234.9" cy="63.1" rx="2.61" ry="2.21" transform="rotate(78 234.9 63.1)" fill="rgb(50,50,50)" stroke="#ffffff" stroke-width="0.9" stroke-opacity="0.37"/>
<ellipse cx="268.8" cy="105.1" rx="2.34" ry="1.97" transform="rotate(168 268.8 105.1)" fill="rgb(28,28,28)" stroke="#ffffff" stroke-width="0.9" stroke-opacity="0.14"/>
<ellipse cx="243.3" cy="77.2" rx="2.12" ry="1.55" transform="rotate(42 243.3 77.2)" fill="rgb(29,29,29)" stroke="#ffffff" stroke-width="0.9" stroke-opacity="0.47"/>
<ellipse cx="289.0" cy="128.0" rx="2.09" ry="1.64" transform="rotate(97 289.0 128.0)" fill="rgb(69,69,69)" stroke="#ffffff" stroke-width="0.9" stroke-opacity="0.17"/>
<ellipse cx="265.6" cy="89.8" rx="2.30" ry="1.61" transform="rotate(79 265.6 89.8)" fill="rgb(49,49,49)" stroke="#ffffff" stroke-width="0.9" stroke-opacity="0.56"/>
<ellipse cx="260.2" cy="69.6" rx="1.90" ry="1.56" transform="rotate(157 260.2 69.6)" fill="rgb(33,33,33)" stroke="#ffffff" stroke-width="0.9" stroke-opacity="0.51"/>
<ellipse cx="265.0" cy="81.0" rx="2.89" ry="1.85" transform="rotate(171 265.0 81.0)" fill="rgb(61,61,61)" stroke="#ffffff" stroke-width="0.9" stroke-opacity="0.13"/>
<ellipse cx="245.4" cy="123.8" rx="1.89" ry="1.67" transform="rotate(1 245.4 123.8)" fill="rgb(84,84,84)" stroke="#ffffff" stroke-width="0.9" stroke-opacity="0.42"/>
<ellipse cx="221.9" cy="116.1" rx="2.29" ry="1.81" transform="rotate(80 221.9 116.1)" fill="rgb(31,31,31)" stroke="#ffffff" stroke-width="0.9" stroke-opacity="0.40"/>
<ellipse cx="247.8" cy="131.7" rx="1.65" ry="1.62" transform="rotate(177 247.8 131.7)" fill="rgb(28,28,28)" stroke="#ffffff" stroke-width="0.9" stroke-opacity="0.45"/>
<ellipse cx="237.0" cy="123.6" rx="2.03" ry="1.89" transform="rotate(164 237.0 123.6)" fill="rgb(35,35,35)" stroke="#ffffff" stroke-width="0.9" stroke-opacity="0.58"/>
<ellipse cx="255.1" cy="101.8" rx="2.32" ry="1.49" transform="rotate(53 255.1 101.8)" fill="rgb(54,54,54)" stroke="#ffffff" stroke-width="0.9" stroke-opacity="0.53"/>
<ellipse cx="233.6" cy="69.9" rx="2.13" ry="1.53" transform="rotate(58 233.6 69.9)" fill="rgb(28,28,28)" stroke="#ffffff" stroke-width="0.9" stroke-opacity="0.17"/>
<ellipse cx="243.5" cy="103.4" rx="2.40" ry="1.48" transform="rotate(30 243.5 103.4)" fill="rgb(27,27,27)" stroke="#ffffff" stroke-width="0.9" stroke-opacity="0.44"/>
<ellipse cx="277.4" cy="74.6" rx="1.86" ry="1.82" transform="rotate(4 277.4 74.6)" fill="rgb(59,59,59)" stroke="#ffffff" stroke-width="0.9" stroke-opacity="0.30"/>
<ellipse cx="271.2" cy="124.2" rx="1.84" ry="1.75" transform="rotate(172 271.2 124.2)" fill="rgb(38,38,38)" stroke="#ffffff" stroke-width="0.9" stroke-opacity="0.61"/>
<ellipse cx="250.4" cy="62.1" rx="1.90" ry="1.93" transform="rotate(80 250.4 62.1)" fill="rgb(25,25,25)" stroke="#ffffff" stroke-width="0.9" stroke-opacity="0.19"/>
<ellipse cx="194.7" cy="144.0" rx="2.02" ry="1.82" transform="rotate(77 194.7 144.0)" fill="rgb(45,45,45)" stroke="#ffffff" stroke-width="0.9" stroke-opacity="0.53"/>
<ellipse cx="225.7" cy="105.0" rx="1.90" ry="1.53" transform="rotate(155 225.7 105.0)" fill="rgb(54,54,54)" stroke="#ffffff" stroke-width="0.9" stroke-opacity="0.42"/>
<ellipse cx="200.7" cy="142.2" rx="2.33" ry="2.00" transform="rotate(65 200.7 142.2)" fill="rgb(85,85,85)" stroke="#ffffff" stroke-width="0.9" stroke-opacity="0.47"/>
<ellipse cx="241.4" cy="141.0" rx="2.37" ry="1.92" transform="rotate(154 241.4 141.0)" fill="rgb(25,25,25)" stroke="#ffffff" stroke-width="0.9" stroke-opacity="0.28"/>
<ellipse cx="244.5" cy="92.5" rx="1.70" ry="1.98" transform="rotate(43 244.5 92.5)" fill="rgb(26,26,26)" stroke="#ffffff" stroke-width="0.9" stroke-opacity="0.36"/>
<ellipse cx="237.2" cy="67.3" rx="1.76" ry="2.03" transform="rotate(67 237.2 67.3)" fill="rgb(49,49,49)" stroke="#ffffff" stroke-width="0.9" stroke-opacity="0.32"/>
<ellipse cx="204.3" cy="159.4" rx="2.28" ry="2.13" transform="rotate(71 204.3 159.4)" fill="rgb(37,37,37)" stroke="#ffffff" stroke-width="0.9" stroke-opacity="0.59"/>
<ellipse cx="249.4" cy="81.3" rx="2.64" ry="2.14" transform="rotate(12 249.4 81.3)" fill="rgb(31,31,31)" stroke="#ffffff" stroke-width="0.9" stroke-opacity="0.20"/>
<ellipse cx="224.1" cy="87.3" rx="2.51" ry="2.08" transform="rotate(112 224.1 87.3)" fill="rgb(34,34,34)" stroke="#ffffff" stroke-width="0.9" stroke-opacity="0.50"/>
<ellipse cx="237.3" cy="87.8" rx="1.85" ry="2.08" transform="rotate(160 237.3 87.8)" fill="rgb(77,77,77)" stroke="#ffffff" stroke-width="0.9" stroke-opacity="0.14"/>
<ellipse cx="241.7" cy="150.1" rx="2.22" ry="1.57" transform="rotate(135 241.7 150.1)" fill="rgb(75,75,75)" stroke="#ffffff" stroke-width="0.9" stroke-opacity="0.29"/>
<ellipse cx="230.3" cy="100.3" rx="2.03" ry="1.59" transform="rotate(49 230.3 100.3)" fill="rgb(31,31,31)" stroke="#ffffff" stroke-width="0.9" stroke-opacity="0.28"/>
<ellipse cx="226.2" cy="140.6" rx="2.35" ry="2.12" transform="rotate(138 226.2 140.6)" fill="rgb(63,63,63)" stroke="#ffffff" stroke-width="0.9" stroke-opacity="0.38"/>
<ellipse cx="270.0" cy="109.3" rx="2.68" ry="1.97" transform="rotate(33 270.0 109.3)" fill="rgb(53,53,53)" stroke="#ffffff" stroke-width="0.9" stroke-opacity="0.50"/>
<ellipse cx="229.9" cy="133.7" rx="2.37" ry="1.76" transform="rotate(51 229.9 133.7)" fill="rgb(30,30,30)" stroke="#ffffff" stroke-width="0.9" stroke-opacity="0.15"/>
<ellipse cx="223.2" cy="161.5" rx="2.88" ry="2.25" transform="rotate(37 223.2 161.5)" fill="rgb(48,48,48)" stroke="#ffffff" stroke-width="0.9" stroke-opacity="0.54"/>
<ellipse cx="282.7" cy="90.0" rx="1.87" ry="1.81" transform="rotate(26 282.7 90.0)" fill="rgb(27,27,27)" stroke="#ffffff" stroke-width="0.9" stroke-opacity="0.29"/>
<ellipse cx="215.1" cy="100.5" rx="2.04" ry="1.46" transform="rotate(154 215.1 100.5)" fill="rgb(36,36,36)" stroke="#ffffff" stroke-width="0.9" stroke-opacity="0.60"/>
<ellipse cx="242.9" cy="82.8" rx="2.20" ry="2.27" transform="rotate(106 242.9 82.8)" fill="rgb(23,23,23)" stroke="#ffffff" stroke-width="0.9" stroke-opacity="0.21"/>
<ellipse cx="275.9" cy="89.7" rx="2.14" ry="2.11" transform="rotate(112 275.9 89.7)" fill="rgb(32,32,32)" stroke="#ffffff" stroke-width="0.9" stroke-opacity="0.28"/>
<ellipse cx="227.8" cy="73.6" rx="2.06" ry="1.69" transform="rotate(60 227.8 73.6)" fill="rgb(23,23,23)" stroke="#ffffff" stroke-width="0.9" stroke-opacity="0.47"/>
<ellipse cx="288.7" cy="117.7" rx="1.90" ry="2.11" transform="rotate(115 288.7 117.7)" fill="rgb(20,20,20)" stroke="#ffffff" stroke-width="0.9" stroke-opacity="0.20"/>
<ellipse cx="276.6" cy="99.6" rx="2.39" ry="2.15" transform="rotate(105 276.6 99.6)" fill="rgb(37,37,37)" stroke="#ffffff" stroke-width="0.9" stroke-opacity="0.46"/>
<ellipse cx="280.8" cy="95.6" rx="1.75" ry="2.21" transform="rotate(4 280.8 95.6)" fill="rgb(59,59,59)" stroke="#ffffff" stroke-width="0.9" stroke-opacity="0.15"/>
<ellipse cx="271.8" cy="95.7" rx="1.97" ry="1.83" transform="rotate(40 271.8 95.7)" fill="rgb(49,49,49)" stroke="#ffffff" stroke-width="0.9" stroke-opacity="0.26"/>
<ellipse cx="267.9" cy="76.5" rx="2.43" ry="1.87" transform="rotate(100 267.9 76.5)" fill="rgb(36,36,36)" stroke="#ffffff" stroke-width="0.9" stroke-opacity="0.49"/>
<ellipse cx="229.8" cy="170.2" rx="2.46" ry="1.94" transform="rotate(91 229.8 170.2)" fill="rgb(48,48,48)" stroke="#ffffff" stroke-width="0.9" stroke-opacity="0.19"/>
<ellipse cx="208.2" cy="103.4" rx="1.98" ry="2.00" transform="rotate(156 208.2 103.4)" fill="rgb(40,40,40)" stroke="#ffffff" stroke-width="0.9" stroke-opacity="0.56"/>
<ellipse cx="193.3" cy="109.8" rx="1.61" ry="1.81" transform="rotate(30 193.3 109.8)" fill="rgb(33,33,33)" stroke="#ffffff" stroke-width="0.9" stroke-opacity="0.30"/>
<ellipse cx="251.9" cy="89.6" rx="2.12" ry="2.40" transform="rotate(162 251.9 89.6)" fill="rgb(27,27,27)" stroke="#ffffff" stroke-width="0.9" stroke-opacity="0.36"/>
<ellipse cx="231.6" cy="110.0" rx="2.25" ry="1.82" transform="rotate(124 231.6 110.0)" fill="rgb(67,67,67)" stroke="#ffffff" stroke-width="0.9" stroke-opacity="0.24"/>
<ellipse cx="287.6" cy="104.0" rx="2.06" ry="2.23" transform="rotate(15 287.6 104.0)" fill="rgb(26,26,26)" stroke="#ffffff" stroke-width="0.9" stroke-opacity="0.28"/>
<ellipse cx="200.5" cy="138.4" rx="2.14" ry="2.00" transform="rotate(68 200.5 138.4)" fill="rgb(69,69,69)" stroke="#ffffff" stroke-width="0.9" stroke-opacity="0.61"/>
<ellipse cx="225.2" cy="118.0" rx="2.22" ry="2.45" transform="rotate(160 225.2 118.0)" fill="rgb(39,39,39)" stroke="#ffffff" stroke-width="0.9" stroke-opacity="0.27"/>
<ellipse cx="251.5" cy="118.4" rx="2.16" ry="1.69" transform="rotate(129 251.5 118.4)" fill="rgb(42,42,42)" stroke="#ffffff" stroke-width="0.9" stroke-opacity="0.61"/>
<ellipse cx="237.8" cy="119.4" rx="1.66" ry="1.98" transform="rotate(33 237.8 119.4)" fill="rgb(50,50,50)" stroke="#ffffff" stroke-width="0.9" stroke-opacity="0.53"/>
<ellipse cx="221.4" cy="148.7" rx="2.37" ry="1.95" transform="rotate(29 221.4 148.7)" fill="rgb(44,44,44)" stroke="#ffffff" stroke-width="0.9" stroke-opacity="0.21"/>
<ellipse cx="218.2" cy="130.5" rx="1.98" ry="1.68" transform="rotate(168 218.2 130.5)" fill="rgb(90,90,90)" stroke="#ffffff" stroke-width="0.9" stroke-opacity="0.29"/>
<ellipse cx="283.6" cy="107.3" rx="1.97" ry="2.20" transform="rotate(148 283.6 107.3)" fill="rgb(28,28,28)" stroke="#ffffff" stroke-width="0.9" stroke-opacity="0.33"/>
<ellipse cx="248.7" cy="94.7" rx="2.39" ry="2.33" transform="rotate(75 248.7 94.7)" fill="rgb(14,14,14)" stroke="#ffffff" stroke-width="0.9" stroke-opacity="0.38"/>
<ellipse cx="222.0" cy="124.3" rx="1.85" ry="1.90" transform="rotate(55 222.0 124.3)" fill="rgb(23,23,23)" stroke="#ffffff" stroke-width="0.9" stroke-opacity="0.20"/>
<ellipse cx="264.0" cy="113.9" rx="2.27" ry="1.90" transform="rotate(83 264.0 113.9)" fill="rgb(26,26,26)" stroke="#ffffff" stroke-width="0.9" stroke-opacity="0.23"/>
<ellipse cx="193.8" cy="128.1" rx="2.60" ry="2.40" transform="rotate(33 193.8 128.1)" fill="rgb(22,22,22)" stroke="#ffffff" stroke-width="0.9" stroke-opacity="0.32"/>
<ellipse cx="218.2" cy="103.3" rx="2.17" ry="1.72" transform="rotate(136 218.2 103.3)" fill="rgb(61,61,61)" stroke="#ffffff" stroke-width="0.9" stroke-opacity="0.31"/>
<ellipse cx="245.7" cy="74.2" rx="2.30" ry="2.17" transform="rotate(122 245.7 74.2)" fill="rgb(31,31,31)" stroke="#ffffff" stroke-width="0.9" stroke-opacity="0.34"/>
<ellipse cx="225.3" cy="80.6" rx="2.57" ry="2.16" transform="rotate(69 225.3 80.6)" fill="rgb(22,22,22)" stroke="#ffffff" stroke-width="0.9" stroke-opacity="0.60"/>
<ellipse cx="269.9" cy="116.0" rx="2.32" ry="1.41" transform="rotate(82 269.9 116.0)" fill="rgb(32,32,32)" stroke="#ffffff" stroke-width="0.9" stroke-opacity="0.56"/>
<ellipse cx="201.0" cy="120.0" rx="1.87" ry="1.53" transform="rotate(24 201.0 120.0)" fill="rgb(55,55,55)" stroke="#ffffff" stroke-width="0.9" stroke-opacity="0.29"/>
<ellipse cx="211.6" cy="163.0" rx="2.14" ry="2.05" transform="rotate(69 211.6 163.0)" fill="rgb(30,30,30)" stroke="#ffffff" stroke-width="0.9" stroke-opacity="0.55"/>
<ellipse cx="216.7" cy="113.8" rx="2.48" ry="1.88" transform="rotate(1 216.7 113.8)" fill="rgb(35,35,35)" stroke="#ffffff" stroke-width="0.9" stroke-opacity="0.46"/>
<ellipse cx="231.5" cy="127.8" rx="2.31" ry="1.82" transform="rotate(103 231.5 127.8)" fill="rgb(39,39,39)" stroke="#ffffff" stroke-width="0.9" stroke-opacity="0.50"/>
<ellipse cx="222.5" cy="101.1" rx="2.29" ry="1.91" transform="rotate(35 222.5 101.1)" fill="rgb(63,63,63)" stroke="#ffffff" stroke-width="0.9" stroke-opacity="0.46"/>
<ellipse cx="216.4" cy="152.5" rx="2.35" ry="2.26" transform="rotate(160 216.4 152.5)" fill="rgb(71,71,71)" stroke="#ffffff" stroke-width="0.9" stroke-opacity="0.16"/>
<ellipse cx="286.9" cy="124.2" rx="2.03" ry="2.02" transform="rotate(171 286.9 124.2)" fill="rgb(23,23,23)" stroke="#ffffff" stroke-width="0.9" stroke-opacity="0.51"/>
<ellipse cx="258.6" cy="66.3" rx="1.70" ry="1.51" transform="rotate(154 258.6 66.3)" fill="rgb(33,33,33)" stroke="#ffffff" stroke-width="0.9" stroke-opacity="0.29"/>
<ellipse cx="262.6" cy="72.6" rx="1.73" ry="1.58" transform="rotate(99 262.6 72.6)" fill="rgb(34,34,34)" stroke="#ffffff" stroke-width="0.9" stroke-opacity="0.45"/>
<ellipse cx="221.8" cy="108.4" rx="2.35" ry="1.96" transform="rotate(36 221.8 108.4)" fill="rgb(65,65,65)" stroke="#ffffff" stroke-width="0.9" stroke-opacity="0.21"/>
<ellipse cx="245.1" cy="87.3" rx="2.73" ry="1.67" transform="rotate(8 245.1 87.3)" fill="rgb(51,51,51)" stroke="#ffffff" stroke-width="0.9" stroke-opacity="0.31"/>
<ellipse cx="274.7" cy="110.4" rx="1.98" ry="2.00" transform="rotate(141 274.7 110.4)" fill="rgb(57,57,57)" stroke="#ffffff" stroke-width="0.9" stroke-opacity="0.32"/>
<ellipse cx="202.5" cy="101.7" rx="2.37" ry="2.02" transform="rotate(175 202.5 101.7)" fill="rgb(32,32,32)" stroke="#ffffff" stroke-width="0.9" stroke-opacity="0.52"/>
<circle cx="284.0" cy="65.5" r="1.8" fill="rgb(94,94,94)"/>
<circle cx="296.5" cy="88.0" r="1.8" fill="rgb(85,85,85)"/>
<circle cx="294.0" cy="95.0" r="1.8" fill="rgb(85,85,85)"/>
<circle cx="285.5" cy="70.0" r="1.8" fill="rgb(85,85,85)"/>
<circle cx="208.7" cy="83.4" r="1.8" fill="rgb(85,85,85)"/>
<circle cx="197.1" cy="101.3" r="1.8" fill="rgb(85,85,85)"/>
<circle cx="205.9" cy="101.3" r="1.8" fill="rgb(58,58,58)"/>
<circle cx="193.0" cy="121.5" r="1.8" fill="rgb(58,58,58)"/>
<circle cx="289.0" cy="65.6" r="1.8" fill="rgb(85,85,85)"/>
<circle cx="288.3" cy="87.0" r="1.8" fill="rgb(76,76,76)"/>
<circle cx="294.6" cy="87.0" r="1.8" fill="rgb(85,85,85)"/>
<circle cx="293.0" cy="91.8" r="1.8" fill="rgb(76,76,76)"/>
<circle cx="290.6" cy="97.3" r="1.8" fill="rgb(67,67,67)"/>
<circle cx="233.2" cy="151.0" r="1.8" fill="rgb(40,40,40)"/>
<circle cx="236.3" cy="154.3" r="1.8" fill="rgb(40,40,40)"/>
<circle cx="231.6" cy="158.3" r="1.8" fill="rgb(40,40,40)"/>
<circle cx="241.0" cy="145.6" r="1.8" fill="rgb(40,40,40)"/>
<circle cx="235.6" cy="145.6" r="1.8" fill="rgb(40,40,40)"/>
<circle cx="242.7" cy="161.5" r="1.8" fill="rgb(85,85,85)"/>
<circle cx="228.0" cy="70.3" r="1.8" fill="rgb(76,76,76)"/>
<circle cx="216.2" cy="89.4" r="1.8" fill="rgb(40,40,40)"/>
<circle cx="212.2" cy="93.0" r="1.8" fill="rgb(40,40,40)"/>
</g>
</g>
<rect x="191.2" y="169.8" width="24" height="12.4" fill="#000" stroke="#ddd" stroke-width="0.6"/>
<text x="193.0" y="177.2" font-family="Liberation Serif, serif" font-size="6.6" font-weight="bold" fill="#fff" letter-spacing="0.55">50nm</text>
<rect x="193" y="179.3" width="20.3" height="1.4" fill="#fff"/>
<rect x="268.6" y="146" width="39.5" height="35.2" fill="#989898"/>
<rect x="268.6" y="146" width="39.5" height="35.2" filter="url(#nz)"/>
<filter id="fi"><feGaussianBlur stdDeviation="0.7"/></filter>
<g filter="url(#fi)">
<rect x="284.3" y="156.7" width="5.2" height="5.2" rx="1.5" fill="#7d7d7d" transform="rotate(-20 286.9 159.3)"/>
<rect x="294.7" y="159.4" width="5.8" height="5.8" rx="1.5" fill="#777777" transform="rotate(-20 297.6 162.3)"/>
<rect x="279.6" y="162.8" width="5.0" height="5.0" rx="1.5" fill="#7f7f7f" transform="rotate(-20 282.1 165.3)"/>
<rect x="288.6" y="167.6" width="6.0" height="6.0" rx="1.5" fill="#737373" transform="rotate(-20 291.6 170.6)"/>
</g>
<text x="269.7" y="175.7" font-family="Liberation Serif, serif" font-size="5.8" font-weight="bold" fill="#000">10nm</text>
<rect x="268.6" y="146" width="39.5" height="35.2" fill="none" stroke="#fff" stroke-width="1" stroke-dasharray="1.6 1.2"/>
<rect x="272" y="178.1" width="8" height="1.5" fill="#fff"/>
<text x="323.8" y="48.2" font-family="Liberation Serif, serif" font-size="7.3" font-weight="bold">(c)</text>
<defs><pattern id="hat" width="2" height="2" patternUnits="userSpaceOnUse"><rect width="2" height="2" fill="#fde9d3"/><path d="M0,2 L2,0" stroke="#f3b274" stroke-width="0.55"/></pattern></defs>
<rect x="348.19" y="164.8" width="12.94" height="16.00" fill="url(#hat)" stroke="#f08a20" stroke-width="0.9"/>
<rect x="364.36" y="111.2" width="12.94" height="69.60" fill="url(#hat)" stroke="#f08a20" stroke-width="0.9"/>
<rect x="380.53" y="69.0" width="12.94" height="111.80" fill="url(#hat)" stroke="#f08a20" stroke-width="0.9"/>
<rect x="396.70" y="111.2" width="12.94" height="69.60" fill="url(#hat)" stroke="#f08a20" stroke-width="0.9"/>
<rect x="412.87" y="161.9" width="12.94" height="18.90" fill="url(#hat)" stroke="#f08a20" stroke-width="0.9"/>
<rect x="429.05" y="164.5" width="12.94" height="16.30" fill="url(#hat)" stroke="#f08a20" stroke-width="0.9"/>
<path d="M330.40,180.07 L331.21,179.97 L332.02,179.85 L332.83,179.71 L333.63,179.56 L334.44,179.39 L335.25,179.20 L336.06,178.99 L336.87,178.76 L337.68,178.49 L338.49,178.20 L339.29,177.88 L340.10,177.52 L340.91,177.13 L341.72,176.69 L342.53,176.22 L343.34,175.70 L344.15,175.12 L344.95,174.50 L345.76,173.82 L346.57,173.08 L347.38,172.28 L348.19,171.42 L349.00,170.48 L349.81,169.48 L350.61,168.40 L351.42,167.24 L352.23,166.00 L353.04,164.67 L353.85,163.26 L354.66,161.76 L355.47,160.18 L356.27,158.50 L357.08,156.73 L357.89,154.87 L358.70,152.91 L359.51,150.87 L360.32,148.73 L361.13,146.51 L361.93,144.20 L362.74,141.80 L363.55,139.33 L364.36,136.78 L365.17,134.16 L365.98,131.48 L366.79,128.74 L367.59,125.95 L368.40,123.12 L369.21,120.25 L370.02,117.36 L370.83,114.46 L371.64,111.55 L372.45,108.64 L373.25,105.76 L374.06,102.90 L374.87,100.09 L375.68,97.33 L376.49,94.64 L377.30,92.02 L378.11,89.49 L378.91,87.07 L379.72,84.76 L380.53,82.58 L381.34,80.53 L382.15,78.63 L382.96,76.89 L383.77,75.31 L384.57,73.91 L385.38,72.70 L386.19,71.67 L387.00,70.83 L387.81,70.20 L388.62,69.76 L389.43,69.54 L390.23,69.52 L391.04,69.70 L391.85,70.09 L392.66,70.69 L393.47,71.48 L394.28,72.47 L395.09,73.66 L395.89,75.02 L396.70,76.56 L397.51,78.27 L398.32,80.14 L399.13,82.16 L399.94,84.31 L400.75,86.60 L401.55,89.00 L402.36,91.51 L403.17,94.11 L403.98,96.79 L404.79,99.53 L405.60,102.34 L406.41,105.19 L407.21,108.07 L408.02,110.97 L408.83,113.88 L409.64,116.78 L410.45,119.68 L411.26,122.55 L412.07,125.39 L412.87,128.19 L413.68,130.94 L414.49,133.63 L415.30,136.26 L416.11,138.83 L416.92,141.31 L417.73,143.73 L418.53,146.05 L419.34,148.29 L420.15,150.45 L420.96,152.51 L421.77,154.48 L422.58,156.36 L423.39,158.15 L424.19,159.85 L425.00,161.45 L425.81,162.97 L426.62,164.40 L427.43,165.74 L428.24,166.99 L429.05,168.17 L429.85,169.27 L430.66,170.29 L431.47,171.24 L432.28,172.12 L433.09,172.93 L433.90,173.68 L434.71,174.37 L435.51,175.00 L436.32,175.58 L437.13,176.12 L437.94,176.60 L438.75,177.04 L439.56,177.45 L440.37,177.81 L441.17,178.14 L441.98,178.44 L442.79,178.71 L443.60,178.95" fill="none" stroke="#f57f0a" stroke-width="1.5"/>
<rect x="330.4" y="61.6" width="113.20000000000005" height="119.20000000000002" fill="none" stroke="#000" stroke-width="1.4"/>
<path d="M330.40,180.8 v2.0 M338.49,180.8 v1.3 M346.57,180.8 v2.0 M354.66,180.8 v1.3 M362.74,180.8 v2.0 M370.83,180.8 v1.3 M378.91,180.8 v2.0 M387.00,180.8 v1.3 M395.09,180.8 v2.0 M403.17,180.8 v1.3 M411.26,180.8 v2.0 M419.34,180.8 v1.3 M427.43,180.8 v2.0 M435.51,180.8 v1.3 M443.60,180.8 v2.0" stroke="#000" stroke-width="1.1" fill="none"/>
<text x="330.40" y="192.2" font-family="Liberation Serif, serif" font-size="10" text-anchor="middle">4</text>
<text x="346.57" y="192.2" font-family="Liberation Serif, serif" font-size="10" text-anchor="middle">5</text>
<text x="362.74" y="192.2" font-family="Liberation Serif, serif" font-size="10" text-anchor="middle">6</text>
<text x="378.91" y="192.2" font-family="Liberation Serif, serif" font-size="10" text-anchor="middle">7</text>
<text x="395.09" y="192.2" font-family="Liberation Serif, serif" font-size="10" text-anchor="middle">8</text>
<text x="411.26" y="192.2" font-family="Liberation Serif, serif" font-size="10" text-anchor="middle">9</text>
<text x="427.43" y="192.2" font-family="Liberation Serif, serif" font-size="10" text-anchor="middle">10</text>
<text x="443.60" y="192.2" font-family="Liberation Serif, serif" font-size="10" text-anchor="middle">11</text>
<text x="395.2" y="208.6" font-family="Liberation Serif, serif" font-size="9" font-weight="bold" text-anchor="middle">Diameter (nm)</text>
<text transform="translate(323.2,122.2) rotate(-90)" font-family="Liberation Serif, serif" font-size="9" font-weight="bold" text-anchor="middle">Count</text>
<text x="332.3" y="78.8" font-family="Liberation Serif, serif" font-size="9.5">D<tspan font-size="5.6" dy="2">ave</tspan><tspan dy="-2">=7.7nm</tspan></text>
<text x="332.3" y="89.5" font-family="Liberation Serif, serif" font-size="9.4">ΔD=1.1nm</text>
</svg></body></html>
